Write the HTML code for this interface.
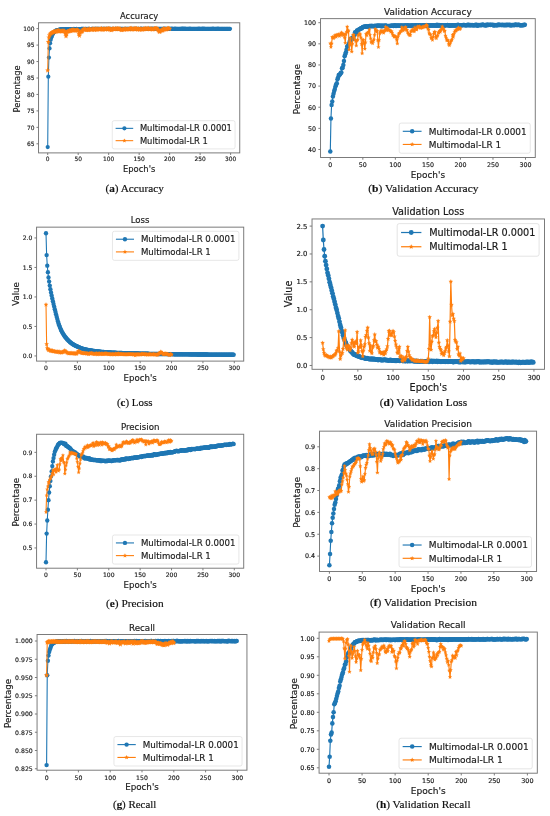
<!DOCTYPE html>
<html lang="en"><head><meta charset="utf-8"><title>Training curves</title>
<style>
html,body{margin:0;padding:0;background:#fff;}
body{width:550px;height:816px;overflow:hidden;}
svg{display:block;}
</style></head><body>
<svg width="550" height="816" viewBox="0 0 550 816">
<rect width="550" height="816" fill="#fff"/>
<g font-family="DejaVu Sans, Liberation Sans, sans-serif" fill="#1a1a1a" stroke="#1a1a1a" stroke-width="0.15">
<clipPath id="clipa"><rect x="38.55" y="22.79" width="201.2" height="130.11"/></clipPath>
<g clip-path="url(#clipa)" stroke="none">
<marker id="mab" markerUnits="userSpaceOnUse" markerWidth="12" markerHeight="12" viewBox="-6 -6 12 12" refX="0" refY="0" overflow="visible"><circle cx="0" cy="0" r="2.1" fill="#1f77b4"/></marker>
<polyline points="47.7,147.09 48.31,76.68 48.92,57.6 49.53,48.39 50.14,43.13 50.75,39.84 51.36,37.47 51.97,35.94 52.58,34.52 53.19,33.45 53.8,32.5 54.41,32.09 55.02,31.41 55.63,30.93 56.24,30.46 56.85,30.37 57.46,30.14 58.06,30.03 58.67,29.83 59.28,29.68 59.89,29.68 60.5,29.44 61.11,29.38 61.72,29.35 62.33,29.28 62.94,29.35 63.55,29.3 64.16,29.33 64.77,29.27 65.38,29.2 65.99,29.26 66.6,29.23 67.21,29.23 67.82,29.23 68.43,29.2 69.04,29.14 69.65,29.2 70.26,29.1 70.87,29 71.48,29.05 72.09,29.1 72.7,29.13 73.31,29.12 73.92,28.95 74.53,29.05 75.14,29.08 75.75,29.02 76.36,28.89 76.97,29.01 77.58,28.98 78.19,28.99 78.79,29.03 79.4,29.08 80.01,29.02 80.62,29.01 81.23,28.95 81.84,28.93 82.45,28.92 83.06,28.96 83.67,28.92 84.28,29.03 84.89,28.89 85.5,28.94 86.11,28.99 86.72,28.94 87.33,28.98 87.94,28.89 88.55,28.87 89.16,28.82 89.77,29.06 90.38,29.06 90.99,28.99 91.6,28.95 92.21,28.9 92.82,28.94 93.43,29.09 94.04,28.97 94.65,28.9 95.26,28.94 95.87,28.9 96.48,28.96 97.09,28.96 97.7,28.93 98.31,28.92 98.91,28.93 99.52,28.93 100.13,28.98 100.74,28.91 101.35,28.93 101.96,28.86 102.57,28.86 103.18,28.92 103.79,28.96 104.4,28.97 105.01,28.9 105.62,28.92 106.23,28.95 106.84,28.92 107.45,28.96 108.06,28.88 108.67,28.95 109.28,28.84 109.89,28.89 110.5,28.88 111.11,28.99 111.72,28.9 112.33,28.87 112.94,28.98 113.55,28.93 114.16,28.91 114.77,29 115.38,28.89 115.99,28.85 116.6,28.96 117.21,28.88 117.82,28.99 118.43,28.91 119.03,29.01 119.64,28.83 120.25,28.87 120.86,28.9 121.47,28.95 122.08,28.81 122.69,28.77 123.3,29.02 123.91,28.81 124.52,28.78 125.13,28.87 125.74,28.97 126.35,28.83 126.96,28.9 127.57,28.93 128.18,28.97 128.79,28.85 129.4,28.83 130.01,28.92 130.62,28.85 131.23,28.96 131.84,28.83 132.45,28.88 133.06,28.89 133.67,28.88 134.28,28.82 134.89,28.83 135.5,28.84 136.11,28.86 136.72,28.87 137.33,28.83 137.94,28.86 138.55,28.83 139.16,28.89 139.76,29.03 140.37,28.8 140.98,28.72 141.59,28.84 142.2,28.87 142.81,28.87 143.42,28.87 144.03,28.86 144.64,28.94 145.25,28.9 145.86,28.93 146.47,28.84 147.08,28.88 147.69,28.83 148.3,28.87 148.91,28.79 149.52,28.84 150.13,28.71 150.74,28.98 151.35,28.9 151.96,28.79 152.57,28.69 153.18,28.87 153.79,28.85 154.4,28.87 155.01,28.76 155.62,28.87 156.23,28.8 156.84,28.87 157.45,28.93 158.06,28.83 158.67,28.81 159.28,28.76 159.88,28.85 160.49,28.89 161.1,28.81 161.71,28.83 162.32,28.82 162.93,28.85 163.54,28.77 164.15,28.82 164.76,28.72 165.37,28.77 165.98,28.8 166.59,28.95 167.2,28.8 167.81,28.81 168.42,28.78 169.03,28.77 169.64,28.86 170.25,28.78 170.86,28.87 171.47,28.71 172.08,28.92 172.69,28.95 173.3,28.94 173.91,28.89 174.52,28.91 175.13,28.7 175.74,28.85 176.35,28.92 176.96,28.76 177.57,28.87 178.18,28.91 178.79,28.77 179.4,28.79 180,28.86 180.61,28.74 181.22,28.82 181.83,28.72 182.44,28.79 183.05,28.72 183.66,28.82 184.27,28.91 184.88,28.67 185.49,28.86 186.1,28.84 186.71,28.87 187.32,28.84 187.93,28.81 188.54,28.81 189.15,28.78 189.76,28.71 190.37,28.83 190.98,28.9 191.59,28.9 192.2,28.87 192.81,28.93 193.42,28.77 194.03,28.85 194.64,28.84 195.25,28.82 195.86,28.91 196.47,28.88 197.08,28.78 197.69,28.78 198.3,28.85 198.91,28.7 199.52,28.91 200.12,28.84 200.73,28.83 201.34,29 201.95,28.69 202.56,28.79 203.17,28.89 203.78,28.68 204.39,28.78 205,28.79 205.61,28.86 206.22,28.81 206.83,28.92 207.44,28.76 208.05,28.84 208.66,28.81 209.27,28.74 209.88,28.8 210.49,28.8 211.1,28.8 211.71,28.86 212.32,28.76 212.93,28.71 213.54,28.77 214.15,28.76 214.76,28.87 215.37,28.87 215.98,28.91 216.59,28.73 217.2,28.83 217.81,28.72 218.42,28.87 219.03,28.84 219.64,28.81 220.25,28.75 220.85,28.81 221.46,28.8 222.07,28.81 222.68,28.8 223.29,28.89 223.9,28.81 224.51,28.83 225.12,28.82 225.73,28.78 226.34,28.86 226.95,28.82 227.56,28.83 228.17,28.79 228.78,28.76 229.39,28.88 230,28.78" fill="none" stroke="#1f77b4" stroke-width="1.07" stroke-linejoin="round" marker-start="url(#mab)" marker-mid="url(#mab)" marker-end="url(#mab)"/>
<marker id="mao" markerUnits="userSpaceOnUse" markerWidth="12" markerHeight="12" viewBox="-6 -6 12 12" refX="0" refY="0" overflow="visible"><path d="M0,-2.42L0.65,-0.9L2.3,-0.75L1.06,0.34L1.42,1.96L0,1.11L-1.42,1.96L-1.06,0.34L-2.3,-0.75L-0.65,-0.9Z" fill="#ff7f0e" stroke="#ff7f0e" stroke-width="0.16" stroke-linejoin="round"/></marker>
<polyline points="47.7,70.43 48.31,41.81 48.92,37.53 49.53,35.32 50.14,34.36 50.75,33.5 51.36,33.35 51.97,32.43 52.58,32.56 53.19,32.28 53.8,31.44 54.41,31.49 55.02,31.98 55.63,31.34 56.24,31.74 56.85,30.79 57.46,30.61 58.06,31.04 58.67,30.45 59.28,31.48 59.89,30.78 60.5,31.4 61.11,30.85 61.72,31.31 62.33,31.25 62.94,30.55 63.55,31.06 64.16,31.21 64.77,31.03 65.38,33.64 65.99,36.26 66.6,34.35 67.21,31.41 67.82,31.47 68.43,31.27 69.04,31.28 69.65,30.53 70.26,30.67 70.87,31.11 71.48,30.17 72.09,29.62 72.7,30.31 73.31,29.76 73.92,30.57 74.53,30.26 75.14,30.48 75.75,30.49 76.36,30.01 76.97,30.38 77.58,29.79 78.19,30.4 78.79,33.61 79.4,35.75 80.01,33.08 80.62,31.75 81.23,31.97 81.84,31.32 82.45,31.25 83.06,29.58 83.67,29.28 84.28,29.2 84.89,29.46 85.5,29.2 86.11,30.04 86.72,29.84 87.33,29.48 87.94,29.7 88.55,30.12 89.16,28.74 89.77,29.5 90.38,29.38 90.99,29.62 91.6,29.69 92.21,29.48 92.82,28.81 93.43,28.92 94.04,29.42 94.65,29.92 95.26,28.76 95.87,29.5 96.48,29.02 97.09,29.82 97.7,28.89 98.31,29.28 98.91,29.12 99.52,29.23 100.13,29.31 100.74,29.02 101.35,28.4 101.96,29.64 102.57,29.34 103.18,29.72 103.79,28.71 104.4,28.82 105.01,29.45 105.62,29.15 106.23,28.82 106.84,28.78 107.45,29.49 108.06,28.45 108.67,28.59 109.28,29.52 109.89,28.44 110.5,29.44 111.11,30.19 111.72,29.74 112.33,29.38 112.94,28.37 113.55,28.83 114.16,29.18 114.77,29.29 115.38,28.34 115.99,29.05 116.6,28.87 117.21,28.76 117.82,28.44 118.43,28.72 119.03,29.36 119.64,28.76 120.25,28.9 120.86,29.52 121.47,30.01 122.08,29.96 122.69,29.33 123.3,29.44 123.91,29.21 124.52,29.59 125.13,28.69 125.74,29.17 126.35,29.33 126.96,29.46 127.57,29.18 128.18,29.28 128.79,29.18 129.4,28.91 130.01,28.79 130.62,28.37 131.23,28.16 131.84,29.52 132.45,29.25 133.06,28.65 133.67,29.35 134.28,28.32 134.89,29.27 135.5,28.51 136.11,28.63 136.72,28.42 137.33,29.53 137.94,29.24 138.55,28.55 139.16,29.45 139.76,29.53 140.37,29.05 140.98,28.72 141.59,29.49 142.2,29.47 142.81,29.5 143.42,28.99 144.03,28.6 144.64,29.28 145.25,28.29 145.86,28.93 146.47,28.66 147.08,29.14 147.69,28.67 148.3,28.18 148.91,28.91 149.52,29.25 150.13,28.94 150.74,28.91 151.35,28.82 151.96,28.79 152.57,29.49 153.18,29.31 153.79,28.89 154.4,28.52 155.01,28.42 155.62,28.42 156.23,28.81 156.84,28.15 157.45,29.06 158.06,29.99 158.67,30.76 159.28,31.75 159.88,31.84 160.49,30.67 161.1,30.7 161.71,29.94 162.32,30.6 162.93,30.2 163.54,28.51 164.15,29.69 164.76,28.84 165.37,29.36 165.98,29.44 166.59,29.14 167.2,28.33 167.81,28.81 168.42,28.28 169.03,28.55 169.64,28.81" fill="none" stroke="#ff7f0e" stroke-width="1.07" stroke-linejoin="round" marker-start="url(#mao)" marker-mid="url(#mao)" marker-end="url(#mao)"/>
</g>
<rect x="38.55" y="22.79" width="201.2" height="130.11" fill="none" stroke="#757575" stroke-width="0.95"/>
<text x="47.7" y="161.44" font-size="5.91" text-anchor="middle">0</text>
<text x="78.19" y="161.44" font-size="5.91" text-anchor="middle">50</text>
<text x="108.67" y="161.44" font-size="5.91" text-anchor="middle">100</text>
<text x="139.16" y="161.44" font-size="5.91" text-anchor="middle">150</text>
<text x="169.64" y="161.44" font-size="5.91" text-anchor="middle">200</text>
<text x="200.12" y="161.44" font-size="5.91" text-anchor="middle">250</text>
<text x="230.61" y="161.44" font-size="5.91" text-anchor="middle">300</text>
<text x="34.41" y="145.96" font-size="5.91" text-anchor="end">65</text>
<text x="34.41" y="129.51" font-size="5.91" text-anchor="end">70</text>
<text x="34.41" y="113.06" font-size="5.91" text-anchor="end">75</text>
<text x="34.41" y="96.61" font-size="5.91" text-anchor="end">80</text>
<text x="34.41" y="80.16" font-size="5.91" text-anchor="end">85</text>
<text x="34.41" y="63.71" font-size="5.91" text-anchor="end">90</text>
<text x="34.41" y="47.26" font-size="5.91" text-anchor="end">95</text>
<text x="34.41" y="30.81" font-size="5.91" text-anchor="end">100</text>
<path d="M47.7,152.9v2.07M78.19,152.9v2.07M108.67,152.9v2.07M139.16,152.9v2.07M169.64,152.9v2.07M200.12,152.9v2.07M230.61,152.9v2.07M38.55,143.8h-2.07M38.55,127.35h-2.07M38.55,110.9h-2.07M38.55,94.45h-2.07M38.55,78h-2.07M38.55,61.55h-2.07M38.55,45.1h-2.07M38.55,28.65h-2.07" stroke="#757575" stroke-width="0.95" fill="none"/>
<text x="139.16" y="19.13" font-size="8.38" text-anchor="middle">Accuracy</text>
<text x="139.16" y="172.11" font-size="8.38" text-anchor="middle">Epoch&#39;s</text>
<text transform="translate(19.6,88.88) rotate(-90)" font-size="8.38" text-anchor="middle">Percentage</text>
<rect x="112.25" y="120.65" width="122.81" height="28.23" rx="1.84" fill="#fff" fill-opacity="0.8" stroke="#d4d4d4" stroke-width="0.55"/>
<path d="M115.6,128.35H133.2" stroke="#1f77b4" stroke-width="1.07"/>
<circle cx="124.4" cy="128.35" r="2.1" fill="#1f77b4" stroke="none"/>
<text x="139.9" y="131.37" font-size="8.38">Multimodal-LR 0.0001</text>
<path d="M115.6,140.67H133.2" stroke="#ff7f0e" stroke-width="1.07"/>
<path d="M124.4,138.44L125,139.84L126.52,139.98L125.38,140.99L125.71,142.47L124.4,141.7L123.09,142.47L123.42,140.99L122.28,139.98L123.8,139.84Z" fill="#ff7f0e" stroke="none"/>
<text x="139.9" y="143.68" font-size="8.38">Multimodal-LR 1</text>
</g>
<text x="134.6" y="191.7" font-size="10.8" text-anchor="middle" font-family="Liberation Serif, DejaVu Serif, serif" fill="#111" stroke="#111" stroke-width="0.15" textLength="58.4" lengthAdjust="spacingAndGlyphs">(<tspan font-weight="bold">a</tspan>) Accuracy</text>
<g font-family="DejaVu Sans, Liberation Sans, sans-serif" fill="#1a1a1a" stroke="#1a1a1a" stroke-width="0.16">
<clipPath id="clipb"><rect x="320.54" y="18.64" width="214.73" height="138.86"/></clipPath>
<g clip-path="url(#clipb)" stroke="none">
<marker id="mbb" markerUnits="userSpaceOnUse" markerWidth="12" markerHeight="12" viewBox="-6 -6 12 12" refX="0" refY="0" overflow="visible"><circle cx="0" cy="0" r="2.24" fill="#1f77b4"/></marker>
<polyline points="330.3,151.59 330.95,118.42 331.6,105.11 332.25,101.6 332.9,96.59 333.55,93.82 334.2,90.92 334.85,88.99 335.51,86.16 336.16,84.43 336.81,83.21 337.46,79.22 338.11,77.44 338.76,74.96 339.41,75.03 340.06,74.13 340.71,72.95 341.36,72.44 342.01,68.25 342.66,67.8 343.31,64.89 343.96,60.93 344.62,56.22 345.27,54.13 345.92,52.29 346.57,49.58 347.22,46.5 347.87,45.71 348.52,44.93 349.17,43.17 349.82,41.01 350.47,38.63 351.12,40.56 351.77,38.89 352.42,38.01 353.07,38.52 353.73,36.07 354.38,35.15 355.03,32.16 355.68,32.55 356.33,33.27 356.98,30.46 357.63,30.56 358.28,30.32 358.93,29.59 359.58,29.16 360.23,28.83 360.88,28.26 361.53,28.39 362.18,27.65 362.84,27.1 363.49,26.91 364.14,26.69 364.79,26.57 365.44,26.38 366.09,26.84 366.74,26.34 367.39,26.84 368.04,26.51 368.69,26.74 369.34,26.07 369.99,25.97 370.64,26.26 371.29,25.82 371.94,26.3 372.6,26.1 373.25,26.07 373.9,26.31 374.55,25.97 375.2,25.63 375.85,26.23 376.5,25.81 377.15,26.01 377.8,25.59 378.45,25.84 379.1,25.79 379.75,25.78 380.4,25.85 381.05,26.19 381.71,25.59 382.36,26.16 383.01,25.81 383.66,25.72 384.31,26.02 384.96,25.8 385.61,25.57 386.26,25.82 386.91,25.99 387.56,26.41 388.21,25.99 388.86,25.9 389.51,25.87 390.16,25.96 390.82,25.67 391.47,25.86 392.12,25.76 392.77,25.58 393.42,25.9 394.07,25.77 394.72,25.25 395.37,25.51 396.02,25.96 396.67,25.7 397.32,25.56 397.97,25.41 398.62,25.63 399.27,25.77 399.92,25.8 400.58,25.51 401.23,25.57 401.88,25.74 402.53,25.66 403.18,25.71 403.83,25.46 404.48,25.75 405.13,25.5 405.78,25.42 406.43,25.49 407.08,25.76 407.73,25.3 408.38,25.72 409.03,25.48 409.69,25.73 410.34,25.93 410.99,25.51 411.64,25.49 412.29,25.56 412.94,25.48 413.59,25.68 414.24,25.69 414.89,25.56 415.54,25.12 416.19,25.35 416.84,25.63 417.49,25.39 418.14,25.61 418.8,25.6 419.45,25.32 420.1,25.61 420.75,25.85 421.4,25.68 422.05,25.46 422.7,25.45 423.35,25.21 424,25.62 424.65,25.31 425.3,25.37 425.95,25.49 426.6,25.28 427.25,25.35 427.9,25.63 428.56,25.22 429.21,25.7 429.86,25.42 430.51,25.43 431.16,25.34 431.81,25.58 432.46,25.43 433.11,25.44 433.76,25.2 434.41,25.57 435.06,25.39 435.71,25.45 436.36,25.67 437.01,24.83 437.67,25.4 438.32,25.7 438.97,25.08 439.62,25.6 440.27,25.29 440.92,25.18 441.57,25.5 442.22,25.45 442.87,25.47 443.52,25.38 444.17,25.69 444.82,25.6 445.47,25.37 446.12,25.12 446.78,25.2 447.43,24.96 448.08,25.18 448.73,25.43 449.38,25.34 450.03,25.74 450.68,25.51 451.33,25.52 451.98,25.24 452.63,25.16 453.28,25.41 453.93,25.42 454.58,25.61 455.23,25.31 455.89,25.23 456.54,25.18 457.19,25.44 457.84,24.85 458.49,25.01 459.14,25.28 459.79,25.37 460.44,25.32 461.09,25.22 461.74,25.25 462.39,25.14 463.04,25.08 463.69,24.95 464.34,24.99 464.99,25.25 465.65,25.14 466.3,25.3 466.95,25.34 467.6,24.81 468.25,25.31 468.9,24.79 469.55,25.28 470.2,25.15 470.85,24.97 471.5,25.19 472.15,25.11 472.8,25.24 473.45,25.29 474.1,25.22 474.76,25.32 475.41,24.83 476.06,25.21 476.71,24.81 477.36,25.74 478.01,25.16 478.66,25.04 479.31,25.22 479.96,24.92 480.61,25.02 481.26,25.21 481.91,25.06 482.56,24.55 483.21,25.09 483.87,25.08 484.52,25.23 485.17,25.11 485.82,25.4 486.47,25.17 487.12,24.61 487.77,24.9 488.42,24.98 489.07,24.88 489.72,24.72 490.37,24.99 491.02,24.67 491.67,24.88 492.32,25.07 492.98,24.74 493.63,25.6 494.28,25.22 494.93,25.04 495.58,25.29 496.23,25.12 496.88,25.22 497.53,25.22 498.18,24.51 498.83,24.95 499.48,25.09 500.13,24.8 500.78,25.13 501.43,24.89 502.08,25 502.74,24.73 503.39,25.37 504.04,24.9 504.69,25.04 505.34,25.31 505.99,24.84 506.64,25.24 507.29,24.71 507.94,24.95 508.59,24.91 509.24,25.03 509.89,24.86 510.54,25.44 511.19,25.03 511.85,25.18 512.5,24.98 513.15,25.05 513.8,24.91 514.45,25.22 515.1,24.65 515.75,24.55 516.4,25.08 517.05,25.04 517.7,24.97 518.35,24.77 519,24.63 519.65,25.29 520.3,25.16 520.96,25.25 521.61,25.26 522.26,25.37 522.91,24.95 523.56,25.27 524.21,24.71 524.86,24.83" fill="none" stroke="#1f77b4" stroke-width="1.14" stroke-linejoin="round" marker-start="url(#mbb)" marker-mid="url(#mbb)" marker-end="url(#mbb)"/>
<marker id="mbo" markerUnits="userSpaceOnUse" markerWidth="12" markerHeight="12" viewBox="-6 -6 12 12" refX="0" refY="0" overflow="visible"><path d="M0,-1.98L0.54,-0.74L1.89,-0.61L0.87,0.28L1.17,1.61L0,0.91L-1.17,1.61L-0.87,0.28L-1.89,-0.61L-0.54,-0.74Z" fill="#ff7f0e" stroke="#ff7f0e" stroke-width="0.17" stroke-linejoin="round"/></marker>
<polyline points="330.3,43.41 330.95,47 331.6,43.61 332.25,37.11 332.9,37.34 333.55,38.45 334.2,37.1 334.85,35.4 335.51,35.46 336.16,36.92 336.81,34.69 337.46,35.34 338.11,34.57 338.76,34.5 339.41,36.05 340.06,34.12 340.71,35.17 341.36,32.59 342.01,33.48 342.66,34.2 343.31,35.32 343.96,34.05 344.62,37.62 345.27,42.91 345.92,34.27 346.57,31.75 347.22,26.65 347.87,31.81 348.52,30.52 349.17,49.64 349.82,44.16 350.47,38.13 351.12,43.77 351.77,51.64 352.42,43.74 353.07,35.04 353.73,34.78 354.38,37.34 355.03,39.92 355.68,41 356.33,45.58 356.98,40.63 357.63,39.76 358.28,35.18 358.93,34.97 359.58,33.53 360.23,34.46 360.88,37.57 361.53,44.06 362.18,53.42 362.84,39.75 363.49,40.05 364.14,43.36 364.79,48.86 365.44,42.41 366.09,33.9 366.74,35.46 367.39,32.79 368.04,32.5 368.69,32.41 369.34,29.54 369.99,35.04 370.64,38.4 371.29,42.36 371.94,41.51 372.6,43.33 373.25,41.08 373.9,39.58 374.55,34.91 375.2,29.05 375.85,30.36 376.5,31.79 377.15,30.82 377.8,40.3 378.45,47.13 379.1,40.22 379.75,33.47 380.4,31.53 381.05,30.55 381.71,31.64 382.36,32.13 383.01,31.07 383.66,32.83 384.31,30.38 384.96,30.66 385.61,26.79 386.26,29.54 386.91,30.41 387.56,28.06 388.21,29.74 388.86,29.93 389.51,30.23 390.16,30.66 390.82,31.8 391.47,31.2 392.12,32.66 392.77,34.79 393.42,35.37 394.07,36.95 394.72,36.21 395.37,36.37 396.02,37.16 396.67,39.95 397.32,43.55 397.97,36.92 398.62,34.35 399.27,33.19 399.92,32.73 400.58,31.35 401.23,30.84 401.88,27.31 402.53,28.7 403.18,30.68 403.83,28.75 404.48,29.42 405.13,27.31 405.78,27.3 406.43,29.99 407.08,30.12 407.73,32.45 408.38,33.85 409.03,34.42 409.69,35.43 410.34,35.05 410.99,31.37 411.64,31.01 412.29,30.23 412.94,29.22 413.59,30.61 414.24,31.5 414.89,27.41 415.54,28.88 416.19,29.6 416.84,29.34 417.49,26.46 418.14,27.35 418.8,27 419.45,26.15 420.1,27.71 420.75,28.02 421.4,27.49 422.05,27.76 422.7,26.79 423.35,27.46 424,26.35 424.65,26.93 425.3,26.44 425.95,25.56 426.6,24.66 427.25,25.75 427.9,28.69 428.56,29.85 429.21,33.33 429.86,34.21 430.51,34.65 431.16,38.18 431.81,37.66 432.46,39.99 433.11,36.99 433.76,33.76 434.41,31.62 435.06,32.22 435.71,37.12 436.36,38.3 437.01,36.05 437.67,35.54 438.32,32.32 438.97,32.91 439.62,30.67 440.27,31.98 440.92,30.05 441.57,28.87 442.22,26.48 442.87,28.49 443.52,28.57 444.17,31.07 444.82,30.81 445.47,35.66 446.12,37.78 446.78,40.39 447.43,40.05 448.08,40.49 448.73,44.04 449.38,45.32 450.03,43.66 450.68,41.75 451.33,40.29 451.98,39.59 452.63,34.83 453.28,37.14 453.93,34.34 454.58,32.02 455.23,30.4 455.89,30.97 456.54,30.21 457.19,28.98 457.84,29.09 458.49,27.51 459.14,28.84 459.79,29.17 460.44,28.32" fill="none" stroke="#ff7f0e" stroke-width="1.14" stroke-linejoin="round" marker-start="url(#mbo)" marker-mid="url(#mbo)" marker-end="url(#mbo)"/>
</g>
<rect x="320.54" y="18.64" width="214.73" height="138.86" fill="none" stroke="#757575" stroke-width="0.95"/>
<text x="330.3" y="166.61" font-size="6.31" text-anchor="middle">0</text>
<text x="362.84" y="166.61" font-size="6.31" text-anchor="middle">50</text>
<text x="395.37" y="166.61" font-size="6.31" text-anchor="middle">100</text>
<text x="427.9" y="166.61" font-size="6.31" text-anchor="middle">150</text>
<text x="460.44" y="166.61" font-size="6.31" text-anchor="middle">200</text>
<text x="492.98" y="166.61" font-size="6.31" text-anchor="middle">250</text>
<text x="525.51" y="166.61" font-size="6.31" text-anchor="middle">300</text>
<text x="316.11" y="151.78" font-size="6.31" text-anchor="end">40</text>
<text x="316.11" y="130.65" font-size="6.31" text-anchor="end">50</text>
<text x="316.11" y="109.52" font-size="6.31" text-anchor="end">60</text>
<text x="316.11" y="88.39" font-size="6.31" text-anchor="end">70</text>
<text x="316.11" y="67.26" font-size="6.31" text-anchor="end">80</text>
<text x="316.11" y="46.13" font-size="6.31" text-anchor="end">90</text>
<text x="316.11" y="25" font-size="6.31" text-anchor="end">100</text>
<path d="M330.3,157.5v2.21M362.84,157.5v2.21M395.37,157.5v2.21M427.9,157.5v2.21M460.44,157.5v2.21M492.98,157.5v2.21M525.51,157.5v2.21M320.54,149.48h-2.21M320.54,128.35h-2.21M320.54,107.22h-2.21M320.54,86.09h-2.21M320.54,64.96h-2.21M320.54,43.83h-2.21M320.54,22.7h-2.21" stroke="#757575" stroke-width="0.95" fill="none"/>
<text x="427.9" y="14.74" font-size="8.94" text-anchor="middle">Validation Accuracy</text>
<text x="427.9" y="178" font-size="8.94" text-anchor="middle">Epoch&#39;s</text>
<text transform="translate(299.8,89.18) rotate(-90)" font-size="8.94" text-anchor="middle">Percentage</text>
<rect x="399.19" y="123.08" width="131.07" height="30.13" rx="1.97" fill="#fff" fill-opacity="0.8" stroke="#d4d4d4" stroke-width="0.59"/>
<path d="M402.77,131.3H421.55" stroke="#1f77b4" stroke-width="1.14"/>
<circle cx="412.16" cy="131.3" r="2.24" fill="#1f77b4" stroke="none"/>
<text x="428.7" y="134.52" font-size="8.94">Multimodal-LR 0.0001</text>
<path d="M402.77,144.45H421.55" stroke="#ff7f0e" stroke-width="1.14"/>
<path d="M412.16,142.07L412.8,143.56L414.42,143.71L413.2,144.79L413.56,146.37L412.16,145.54L410.76,146.37L411.12,144.79L409.89,143.71L411.51,143.56Z" fill="#ff7f0e" stroke="none"/>
<text x="428.7" y="147.67" font-size="8.94">Multimodal-LR 1</text>
</g>
<text x="423.4" y="191.6" font-size="10.8" text-anchor="middle" font-family="Liberation Serif, DejaVu Serif, serif" fill="#111" stroke="#111" stroke-width="0.15" textLength="110.2" lengthAdjust="spacingAndGlyphs">(<tspan font-weight="bold">b</tspan>) Validation Accuracy</text>
<g font-family="DejaVu Sans, Liberation Sans, sans-serif" fill="#1a1a1a" stroke="#1a1a1a" stroke-width="0.16">
<clipPath id="clipc"><rect x="36.58" y="227.15" width="207.14" height="133.95"/></clipPath>
<g clip-path="url(#clipc)" stroke="none">
<marker id="mcb" markerUnits="userSpaceOnUse" markerWidth="12" markerHeight="12" viewBox="-6 -6 12 12" refX="0" refY="0" overflow="visible"><circle cx="0" cy="0" r="2.17" fill="#1f77b4"/></marker>
<polyline points="46,233.23 46.63,255.06 47.26,265.68 47.88,272.17 48.51,277.48 49.14,281.61 49.77,285.59 50.39,289.28 51.02,292.52 51.65,295.5 52.28,298.38 52.9,301.2 53.53,303.95 54.16,306.61 54.79,309.2 55.42,311.7 56.04,314.17 56.67,316.64 57.3,319.04 57.93,321.32 58.55,323.42 59.18,325.27 59.81,326.92 60.44,328.47 61.06,329.89 61.69,331.21 62.32,332.43 62.95,333.53 63.58,334.55 64.2,335.5 64.83,336.39 65.46,337.22 66.09,338.01 66.71,338.74 67.34,339.43 67.97,340.09 68.6,340.72 69.22,341.32 69.85,341.9 70.48,342.44 71.11,342.95 71.74,343.42 72.36,343.86 72.99,344.26 73.62,344.63 74.25,344.98 74.87,345.31 75.5,345.63 76.13,345.93 76.76,346.22 77.39,346.51 78.01,346.8 78.64,347.08 79.27,347.36 79.9,347.64 80.52,347.9 81.15,348.16 81.78,348.4 82.41,348.62 83.03,348.81 83.66,348.99 84.29,349.15 84.92,349.3 85.55,349.44 86.17,349.58 86.8,349.72 87.43,349.85 88.06,349.97 88.68,350.09 89.31,350.21 89.94,350.32 90.57,350.43 91.19,350.53 91.82,350.63 92.45,350.72 93.08,350.81 93.71,350.9 94.33,350.99 94.96,351.07 95.59,351.15 96.22,351.23 96.84,351.31 97.47,351.38 98.1,351.46 98.73,351.53 99.35,351.6 99.98,351.67 100.61,351.73 101.24,351.8 101.87,351.86 102.49,351.92 103.12,351.98 103.75,352.04 104.38,352.09 105,352.15 105.63,352.2 106.26,352.24 106.89,352.29 107.51,352.33 108.14,352.37 108.77,352.41 109.4,352.45 110.03,352.48 110.65,352.51 111.28,352.55 111.91,352.58 112.54,352.61 113.16,352.65 113.79,352.68 114.42,352.71 115.05,352.74 115.67,352.77 116.3,352.8 116.93,352.82 117.56,352.85 118.19,352.88 118.81,352.91 119.44,352.93 120.07,352.96 120.7,352.98 121.32,353.01 121.95,353.03 122.58,353.06 123.21,353.08 123.83,353.1 124.46,353.13 125.09,353.15 125.72,353.17 126.35,353.19 126.97,353.21 127.6,353.23 128.23,353.25 128.86,353.27 129.48,353.29 130.11,353.31 130.74,353.33 131.37,353.35 131.99,353.37 132.62,353.39 133.25,353.41 133.88,353.42 134.51,353.44 135.13,353.46 135.76,353.48 136.39,353.49 137.02,353.51 137.64,353.53 138.27,353.54 138.9,353.56 139.53,353.57 140.16,353.59 140.78,353.61 141.41,353.62 142.04,353.64 142.67,353.65 143.29,353.67 143.92,353.68 144.55,353.7 145.18,353.71 145.8,353.73 146.43,353.74 147.06,353.75 147.69,353.77 148.32,353.78 148.94,353.8 149.57,353.81 150.2,353.82 150.83,353.84 151.45,353.85 152.08,353.86 152.71,353.88 153.34,353.89 153.96,353.9 154.59,353.91 155.22,353.93 155.85,353.94 156.48,353.95 157.1,353.96 157.73,353.97 158.36,353.99 158.99,354 159.61,354.01 160.24,354.02 160.87,354.03 161.5,354.04 162.12,354.05 162.75,354.06 163.38,354.07 164.01,354.08 164.64,354.09 165.26,354.1 165.89,354.11 166.52,354.12 167.15,354.12 167.77,354.13 168.4,354.14 169.03,354.15 169.66,354.16 170.28,354.17 170.91,354.17 171.54,354.18 172.17,354.19 172.8,354.19 173.42,354.2 174.05,354.21 174.68,354.22 175.31,354.22 175.93,354.23 176.56,354.24 177.19,354.24 177.82,354.25 178.44,354.26 179.07,354.27 179.7,354.27 180.33,354.28 180.96,354.29 181.58,354.29 182.21,354.3 182.84,354.31 183.47,354.31 184.09,354.32 184.72,354.33 185.35,354.33 185.98,354.34 186.6,354.35 187.23,354.35 187.86,354.36 188.49,354.37 189.12,354.37 189.74,354.38 190.37,354.39 191,354.39 191.63,354.4 192.25,354.41 192.88,354.41 193.51,354.42 194.14,354.42 194.76,354.43 195.39,354.44 196.02,354.44 196.65,354.45 197.28,354.46 197.9,354.46 198.53,354.47 199.16,354.47 199.79,354.48 200.41,354.48 201.04,354.49 201.67,354.49 202.3,354.5 202.93,354.51 203.55,354.51 204.18,354.52 204.81,354.52 205.44,354.53 206.06,354.53 206.69,354.54 207.32,354.54 207.95,354.55 208.57,354.55 209.2,354.55 209.83,354.56 210.46,354.56 211.09,354.57 211.71,354.57 212.34,354.58 212.97,354.58 213.6,354.58 214.22,354.59 214.85,354.59 215.48,354.6 216.11,354.6 216.73,354.6 217.36,354.61 217.99,354.61 218.62,354.61 219.25,354.62 219.87,354.62 220.5,354.62 221.13,354.62 221.76,354.63 222.38,354.63 223.01,354.63 223.64,354.63 224.27,354.64 224.89,354.64 225.52,354.64 226.15,354.64 226.78,354.64 227.41,354.64 228.03,354.65 228.66,354.65 229.29,354.65 229.92,354.65 230.54,354.65 231.17,354.65 231.8,354.65 232.43,354.65 233.05,354.65 233.68,354.65" fill="none" stroke="#1f77b4" stroke-width="1.1" stroke-linejoin="round" marker-start="url(#mcb)" marker-mid="url(#mcb)" marker-end="url(#mcb)"/>
<marker id="mco" markerUnits="userSpaceOnUse" markerWidth="12" markerHeight="12" viewBox="-6 -6 12 12" refX="0" refY="0" overflow="visible"><path d="M0,-2.2L0.6,-0.82L2.09,-0.68L0.96,0.31L1.29,1.78L0,1.01L-1.29,1.78L-0.96,0.31L-2.09,-0.68L-0.6,-0.82Z" fill="#ff7f0e" stroke="#ff7f0e" stroke-width="0.16" stroke-linejoin="round"/></marker>
<polyline points="46,304.62 46.63,344.15 47.26,348.28 47.88,349.14 48.51,350.19 49.14,349.78 49.77,349.95 50.39,350.97 51.02,350.27 51.65,351.12 52.28,350.45 52.9,351.14 53.53,351.51 54.16,351.13 54.79,351.55 55.42,351.63 56.04,351.74 56.67,351.9 57.3,351.75 57.93,351.79 58.55,352.01 59.18,351.62 59.81,352.6 60.44,352.38 61.06,352.04 61.69,352.67 62.32,351.91 62.95,352.2 63.58,351.78 64.2,350.88 64.83,350.52 65.46,351.57 66.09,351.67 66.71,352.43 67.34,352.76 67.97,352.88 68.6,353.59 69.22,353.29 69.85,353.26 70.48,353.14 71.11,352.89 71.74,353.47 72.36,353.56 72.99,353.07 73.62,353.41 74.25,353.8 74.87,353.05 75.5,353.69 76.13,353.62 76.76,353.78 77.39,352.52 78.01,351.46 78.64,351.05 79.27,351.51 79.9,352.45 80.52,352.31 81.15,352.6 81.78,353.25 82.41,352.96 83.03,352.88 83.66,353.07 84.29,353.46 84.92,353.32 85.55,353.1 86.17,353.22 86.8,353.65 87.43,353.3 88.06,353.77 88.68,354.14 89.31,353.5 89.94,353.31 90.57,353.47 91.19,353.18 91.82,353.12 92.45,353.54 93.08,353.85 93.71,353.69 94.33,354.11 94.96,353.71 95.59,353.74 96.22,353.68 96.84,353.42 97.47,354.38 98.1,353.55 98.73,353.94 99.35,353.56 99.98,353.76 100.61,354.13 101.24,353.58 101.87,354.07 102.49,353.71 103.12,354.05 103.75,354.03 104.38,353.87 105,353.36 105.63,353.73 106.26,353.95 106.89,353.47 107.51,353.97 108.14,354.08 108.77,354.29 109.4,353.96 110.03,353.98 110.65,354.22 111.28,354.59 111.91,354.07 112.54,354.01 113.16,354.16 113.79,354.33 114.42,354.37 115.05,354.21 115.67,353.67 116.3,354.03 116.93,354.56 117.56,353.9 118.19,354.23 118.81,353.41 119.44,354.2 120.07,354.13 120.7,354.06 121.32,354.04 121.95,354.11 122.58,354.12 123.21,354.21 123.83,354.31 124.46,354.26 125.09,354.51 125.72,354.32 126.35,354.37 126.97,354.31 127.6,354.32 128.23,354.23 128.86,354.06 129.48,354.29 130.11,354.18 130.74,354.14 131.37,354.31 131.99,354.27 132.62,354.13 133.25,354.74 133.88,354.05 134.51,354.39 135.13,355.35 135.76,354.11 136.39,354.62 137.02,354.01 137.64,354.57 138.27,354.35 138.9,354.1 139.53,354.53 140.16,354.6 140.78,354.35 141.41,353.91 142.04,354 142.67,353.92 143.29,354.22 143.92,354.2 144.55,354.03 145.18,354.19 145.8,354.6 146.43,354.14 147.06,354.52 147.69,354.62 148.32,354.34 148.94,354.41 149.57,354.14 150.2,354.32 150.83,354.53 151.45,354.43 152.08,354.59 152.71,354.52 153.34,354.06 153.96,354.32 154.59,354.55 155.22,354.55 155.85,354.63 156.48,354.52 157.1,354.91 157.73,354.29 158.36,354.26 158.99,353.68 159.61,353.31 160.24,352.46 160.87,351.82 161.5,352.67 162.12,352.86 162.75,353.64 163.38,354.33 164.01,354.25 164.64,353.69 165.26,354.03 165.89,353.5 166.52,353.99 167.15,353.91 167.77,354.25 168.4,354.4 169.03,354.73 169.66,355.15 170.28,354.06 170.91,354.2 171.54,354.62" fill="none" stroke="#ff7f0e" stroke-width="1.1" stroke-linejoin="round" marker-start="url(#mco)" marker-mid="url(#mco)" marker-end="url(#mco)"/>
</g>
<rect x="36.58" y="227.15" width="207.14" height="133.95" fill="none" stroke="#757575" stroke-width="0.95"/>
<text x="46" y="370.33" font-size="6.09" text-anchor="middle">0</text>
<text x="77.39" y="370.33" font-size="6.09" text-anchor="middle">50</text>
<text x="108.77" y="370.33" font-size="6.09" text-anchor="middle">100</text>
<text x="140.16" y="370.33" font-size="6.09" text-anchor="middle">150</text>
<text x="171.54" y="370.33" font-size="6.09" text-anchor="middle">200</text>
<text x="202.93" y="370.33" font-size="6.09" text-anchor="middle">250</text>
<text x="234.31" y="370.33" font-size="6.09" text-anchor="middle">300</text>
<text x="32.32" y="358.17" font-size="6.09" text-anchor="end">0.0</text>
<text x="32.32" y="328.67" font-size="6.09" text-anchor="end">0.5</text>
<text x="32.32" y="299.17" font-size="6.09" text-anchor="end">1.0</text>
<text x="32.32" y="269.67" font-size="6.09" text-anchor="end">1.5</text>
<text x="32.32" y="240.17" font-size="6.09" text-anchor="end">2.0</text>
<path d="M46,361.1v2.13M77.39,361.1v2.13M108.77,361.1v2.13M140.16,361.1v2.13M171.54,361.1v2.13M202.93,361.1v2.13M234.31,361.1v2.13M36.58,355.95h-2.13M36.58,326.45h-2.13M36.58,296.95h-2.13M36.58,267.45h-2.13M36.58,237.95h-2.13" stroke="#757575" stroke-width="0.95" fill="none"/>
<text x="140.16" y="223.38" font-size="8.62" text-anchor="middle">Loss</text>
<text x="140.16" y="380.87" font-size="8.62" text-anchor="middle">Epoch&#39;s</text>
<text transform="translate(18.5,293.94) rotate(-90)" font-size="8.62" text-anchor="middle">Value</text>
<rect x="112.46" y="231.29" width="126.44" height="29.06" rx="1.9" fill="#fff" fill-opacity="0.8" stroke="#d4d4d4" stroke-width="0.56"/>
<path d="M115.91,239.22H134.02" stroke="#1f77b4" stroke-width="1.1"/>
<circle cx="124.96" cy="239.22" r="2.17" fill="#1f77b4" stroke="none"/>
<text x="140.92" y="242.33" font-size="8.62">Multimodal-LR 0.0001</text>
<path d="M115.91,251.9H134.02" stroke="#ff7f0e" stroke-width="1.1"/>
<path d="M124.96,249.6L125.59,251.05L127.15,251.19L125.97,252.23L126.32,253.76L124.96,252.96L123.61,253.76L123.96,252.23L122.78,251.19L124.34,251.05Z" fill="#ff7f0e" stroke="none"/>
<text x="140.92" y="255.01" font-size="8.62">Multimodal-LR 1</text>
</g>
<text x="134.7" y="405.6" font-size="10.8" text-anchor="middle" font-family="Liberation Serif, DejaVu Serif, serif" fill="#111" stroke="#111" stroke-width="0.15" textLength="35.4" lengthAdjust="spacingAndGlyphs">(<tspan font-weight="bold">c</tspan>) Loss</text>
<g font-family="DejaVu Sans, Liberation Sans, sans-serif" fill="#1a1a1a" stroke="#1a1a1a" stroke-width="0.18">
<clipPath id="clipd"><rect x="312.03" y="218.96" width="232.49" height="150.34"/></clipPath>
<g clip-path="url(#clipd)" stroke="none">
<marker id="mdb" markerUnits="userSpaceOnUse" markerWidth="12" markerHeight="12" viewBox="-6 -6 12 12" refX="0" refY="0" overflow="visible"><circle cx="0" cy="0" r="2.43" fill="#1f77b4"/></marker>
<polyline points="322.6,226.1 323.3,240.04 324.01,249.51 324.71,256.2 325.42,261.23 326.12,265.12 326.83,268.91 327.53,272.82 328.24,275.52 328.94,278.8 329.65,282.14 330.35,284.94 331.05,287.58 331.76,290.53 332.46,293.36 333.17,296.47 333.87,298.85 334.58,301.77 335.28,304.56 335.99,307.79 336.69,309.9 337.39,313.08 338.1,316.1 338.8,318.48 339.51,321.85 340.21,325.02 340.92,327.55 341.62,330.61 342.33,332.43 343.03,335.28 343.74,337.72 344.44,339.39 345.14,341.78 345.85,342.98 346.55,345.15 347.26,346.3 347.96,347.73 348.67,348.29 349.37,349.19 350.08,350.51 350.78,351.04 351.48,352.01 352.19,352.54 352.89,353.47 353.6,354.26 354.3,354.79 355.01,354.76 355.71,354.74 356.42,355.51 357.12,355.99 357.83,355.73 358.53,356.37 359.23,356.65 359.94,356.86 360.64,357.16 361.35,357.4 362.05,357.84 362.76,357.59 363.46,357.88 364.17,357.74 364.87,358.22 365.57,358.68 366.28,358.38 366.98,358.08 367.69,358.65 368.39,358.86 369.1,359.02 369.8,359.08 370.51,359 371.21,359.28 371.92,358.76 372.62,359.24 373.32,359.23 374.03,359.01 374.73,359.06 375.44,359.51 376.14,359.46 376.85,359.43 377.55,359.7 378.26,360.11 378.96,359.63 379.66,359.63 380.37,359.78 381.07,360.13 381.78,360.02 382.48,360.15 383.19,360.12 383.89,359.81 384.6,359.79 385.3,360.02 386,360.08 386.71,360.08 387.41,360.27 388.12,360.31 388.82,360.47 389.53,360.36 390.23,359.87 390.94,360.21 391.64,360.51 392.35,360.56 393.05,360.68 393.75,360.43 394.46,360.45 395.16,360.88 395.87,360.47 396.57,360.73 397.28,360.31 397.98,360.61 398.69,360.29 399.39,360.8 400.1,360.78 400.8,360.67 401.5,360.52 402.21,360.65 402.91,361.07 403.62,360.77 404.32,360.83 405.03,360.95 405.73,361.01 406.44,360.5 407.14,360.99 407.84,361.11 408.55,360.79 409.25,360.92 409.96,360.99 410.66,360.81 411.37,360.89 412.07,360.93 412.78,360.81 413.48,360.98 414.19,361.2 414.89,361.15 415.59,361.2 416.3,361.05 417,361.35 417.71,361.53 418.41,361.12 419.12,361.45 419.82,361.6 420.53,361.09 421.23,361.34 421.93,361.09 422.64,361.33 423.34,361.47 424.05,361.51 424.75,361.36 425.46,361.31 426.16,361.45 426.87,361.34 427.57,361.63 428.28,361.29 428.98,361.7 429.68,361.36 430.39,361.17 431.09,361.09 431.8,360.96 432.5,361.7 433.21,361.19 433.91,361.1 434.62,361.17 435.32,361.6 436.02,361.31 436.73,361 437.43,361.76 438.14,361.33 438.84,361.19 439.55,361.61 440.25,361.33 440.96,361.71 441.66,361.66 442.37,361.67 443.07,361.46 443.77,361.53 444.48,361.31 445.18,361.74 445.89,361.57 446.59,361.33 447.3,361.43 448,361.86 448.71,361.43 449.41,361.69 450.11,361.51 450.82,361.54 451.52,361.34 452.23,361.6 452.93,362.05 453.64,361.95 454.34,361.49 455.05,361.72 455.75,361.42 456.46,361.62 457.16,361.85 457.86,361.45 458.57,361.88 459.27,362.17 459.98,361.26 460.68,362.16 461.39,361.6 462.09,361.54 462.8,361.72 463.5,362.14 464.2,361.55 464.91,362.1 465.61,362.09 466.32,361.88 467.02,361.63 467.73,361.75 468.43,361.64 469.14,361.93 469.84,361.88 470.55,362.1 471.25,361.93 471.95,361.73 472.66,361.94 473.36,361.77 474.07,362.01 474.77,362.03 475.48,361.89 476.18,361.95 476.89,361.78 477.59,361.88 478.29,361.54 479,361.99 479.7,362 480.41,362.18 481.11,361.95 481.82,361.81 482.52,362.14 483.23,361.99 483.93,361.83 484.63,362.02 485.34,362.12 486.04,361.79 486.75,361.99 487.45,361.93 488.16,361.76 488.86,361.78 489.57,362.12 490.27,362.16 490.98,361.99 491.68,362.09 492.38,362.49 493.09,361.78 493.79,362.07 494.5,361.91 495.2,362.35 495.91,361.8 496.61,362.23 497.32,362.12 498.02,362.42 498.73,362.15 499.43,362.17 500.13,362.16 500.84,362.03 501.54,362.12 502.25,361.92 502.95,362.24 503.66,362.37 504.36,362.15 505.07,362.01 505.77,361.88 506.47,361.98 507.18,362.56 507.88,362.08 508.59,361.85 509.29,362.16 510,362.3 510.7,362.11 511.41,362.3 512.11,362.05 512.82,362.2 513.52,361.89 514.22,362.09 514.93,362.36 515.63,362.07 516.34,362 517.04,362.34 517.75,362.31 518.45,362.73 519.16,362.02 519.86,362.35 520.56,362.7 521.27,362.62 521.97,362.28 522.68,362.06 523.38,362.25 524.09,362.13 524.79,362.48 525.5,362.53 526.2,362.04 526.9,362.13 527.61,362.24 528.31,361.95 529.02,362.45 529.72,362.33 530.43,362.01 531.13,361.83 531.84,362.24 532.54,361.87 533.25,362.38" fill="none" stroke="#1f77b4" stroke-width="1.23" stroke-linejoin="round" marker-start="url(#mdb)" marker-mid="url(#mdb)" marker-end="url(#mdb)"/>
<marker id="mdo" markerUnits="userSpaceOnUse" markerWidth="12" markerHeight="12" viewBox="-6 -6 12 12" refX="0" refY="0" overflow="visible"><path d="M0,-2.15L0.58,-0.8L2.04,-0.66L0.94,0.31L1.26,1.74L0,0.99L-1.26,1.74L-0.94,0.31L-2.04,-0.66L-0.58,-0.8Z" fill="#ff7f0e" stroke="#ff7f0e" stroke-width="0.18" stroke-linejoin="round"/></marker>
<polyline points="322.6,342.87 323.3,349.28 324.01,352.69 324.71,354.9 325.42,355.83 326.12,354.88 326.83,355.74 327.53,356.21 328.24,356.76 328.94,356.77 329.65,357.58 330.35,356.62 331.05,357.71 331.76,357.07 332.46,356.5 333.17,356.15 333.87,355.12 334.58,355 335.28,354.46 335.99,352.81 336.69,350.59 337.39,350.35 338.1,347.93 338.8,331.32 339.51,351.5 340.21,359.09 340.92,355.79 341.62,353.14 342.33,353.22 343.03,348.9 343.74,339.65 344.44,337.97 345.14,330.3 345.85,345.66 346.55,347.46 347.26,349.66 347.96,345.45 348.67,345.68 349.37,347.5 350.08,350.27 350.78,347.95 351.48,343.05 352.19,339.76 352.89,342.42 353.6,345.35 354.3,346.71 355.01,342.56 355.71,341.49 356.42,343.76 357.12,331.96 357.83,352.71 358.53,351.31 359.23,346.86 359.94,347.25 360.64,340.3 361.35,345.26 362.05,351.32 362.76,356.24 363.46,350.57 364.17,346.7 364.87,344.21 365.57,336.86 366.28,335.12 366.98,330.69 367.69,327.63 368.39,337.53 369.1,343.28 369.8,350.79 370.51,345.45 371.21,351.78 371.92,353.3 372.62,347.5 373.32,345.78 374.03,340.22 374.73,334.49 375.44,341.39 376.14,341.18 376.85,344.59 377.55,347.68 378.26,346.57 378.96,348.99 379.66,352.39 380.37,351.76 381.07,353.22 381.78,353.88 382.48,353.21 383.19,352.05 383.89,354.66 384.6,352.28 385.3,353.45 386,350.71 386.71,349.3 387.41,346.28 388.12,338.89 388.82,331.17 389.53,330.77 390.23,335.28 390.94,334 391.64,335.42 392.35,332.34 393.05,330.93 393.75,332.18 394.46,336.47 395.16,340.78 395.87,344.48 396.57,346.99 397.28,352.61 397.98,353.21 398.69,349.29 399.39,346.75 400.1,357.12 400.8,356.44 401.5,356.05 402.21,360.83 402.91,361.01 403.62,357.54 404.32,360.13 405.03,359.99 405.73,357.51 406.44,356.65 407.14,351.08 407.84,346.82 408.55,351.5 409.25,355.25 409.96,357.26 410.66,358.06 411.37,358.73 412.07,359.7 412.78,359.97 413.48,359.87 414.19,360.59 414.89,361.06 415.59,361.11 416.3,360.39 417,361.3 417.71,360.5 418.41,360.8 419.12,361.38 419.82,361.23 420.53,361.16 421.23,361.17 421.93,361.27 422.64,360.94 423.34,361.17 424.05,361.72 424.75,361.66 425.46,361.97 426.16,361.91 426.87,361.77 427.57,361.08 428.28,358.62 428.98,348.83 429.68,317.11 430.39,345.36 431.09,349.71 431.8,341.67 432.5,336.03 433.21,335.54 433.91,331.18 434.62,329 435.32,334.2 436.02,337.23 436.73,332.61 437.43,327.6 438.14,320.97 438.84,342.63 439.55,346.86 440.25,348.86 440.96,350.25 441.66,353.91 442.37,352.82 443.07,353.01 443.77,355.26 444.48,352.96 445.18,351 445.89,348.34 446.59,346.89 447.3,340.28 448,345.63 448.71,351.4 449.41,356.39 450.11,321.64 450.82,281.63 451.52,304.79 452.23,315.26 452.93,313.95 453.64,318.61 454.34,321.02 455.05,339.9 455.75,341.49 456.46,342.34 457.16,349.02 457.86,346.7 458.57,354.38 459.27,355.65 459.98,353.47 460.68,361.1 461.39,357.56 462.09,359.94 462.8,358.68 463.5,358.18" fill="none" stroke="#ff7f0e" stroke-width="1.23" stroke-linejoin="round" marker-start="url(#mdo)" marker-mid="url(#mdo)" marker-end="url(#mdo)"/>
</g>
<rect x="312.03" y="218.96" width="232.49" height="150.34" fill="none" stroke="#757575" stroke-width="0.95"/>
<text x="322.6" y="379.66" font-size="6.83" text-anchor="middle">0</text>
<text x="357.83" y="379.66" font-size="6.83" text-anchor="middle">50</text>
<text x="393.05" y="379.66" font-size="6.83" text-anchor="middle">100</text>
<text x="428.28" y="379.66" font-size="6.83" text-anchor="middle">150</text>
<text x="463.5" y="379.66" font-size="6.83" text-anchor="middle">200</text>
<text x="498.73" y="379.66" font-size="6.83" text-anchor="middle">250</text>
<text x="533.95" y="379.66" font-size="6.83" text-anchor="middle">300</text>
<text x="307.24" y="367.97" font-size="6.83" text-anchor="end">0.0</text>
<text x="307.24" y="340.09" font-size="6.83" text-anchor="end">0.5</text>
<text x="307.24" y="312.22" font-size="6.83" text-anchor="end">1.0</text>
<text x="307.24" y="284.34" font-size="6.83" text-anchor="end">1.5</text>
<text x="307.24" y="256.47" font-size="6.83" text-anchor="end">2.0</text>
<text x="307.24" y="228.59" font-size="6.83" text-anchor="end">2.5</text>
<path d="M322.6,369.3v2.4M357.83,369.3v2.4M393.05,369.3v2.4M428.28,369.3v2.4M463.5,369.3v2.4M498.73,369.3v2.4M533.95,369.3v2.4M312.03,365.48h-2.4M312.03,337.6h-2.4M312.03,309.73h-2.4M312.03,281.85h-2.4M312.03,253.97h-2.4M312.03,226.1h-2.4" stroke="#757575" stroke-width="0.95" fill="none"/>
<text x="428.28" y="214.73" font-size="9.68" text-anchor="middle">Validation Loss</text>
<text x="428.28" y="391.49" font-size="9.68" text-anchor="middle">Epoch&#39;s</text>
<text transform="translate(291.7,293.92) rotate(-90)" font-size="9.68" text-anchor="middle">Value</text>
<rect x="397.19" y="223.61" width="141.91" height="32.62" rx="2.13" fill="#fff" fill-opacity="0.8" stroke="#d4d4d4" stroke-width="0.63"/>
<path d="M401.06,232.51H421.39" stroke="#1f77b4" stroke-width="1.23"/>
<circle cx="411.23" cy="232.51" r="2.43" fill="#1f77b4" stroke="none"/>
<text x="429.13" y="236" font-size="9.68">Multimodal-LR 0.0001</text>
<path d="M401.06,246.74H421.39" stroke="#ff7f0e" stroke-width="1.23"/>
<path d="M411.23,244.16L411.92,245.78L413.68,245.94L412.35,247.11L412.74,248.83L411.23,247.93L409.71,248.83L410.1,247.11L408.77,245.94L410.53,245.78Z" fill="#ff7f0e" stroke="none"/>
<text x="429.13" y="250.23" font-size="9.68">Multimodal-LR 1</text>
</g>
<text x="423.5" y="405.6" font-size="10.8" text-anchor="middle" font-family="Liberation Serif, DejaVu Serif, serif" fill="#111" stroke="#111" stroke-width="0.15" textLength="87.3" lengthAdjust="spacingAndGlyphs">(<tspan font-weight="bold">d</tspan>) Validation Loss</text>
<g font-family="DejaVu Sans, Liberation Sans, sans-serif" fill="#1a1a1a" stroke="#1a1a1a" stroke-width="0.16">
<clipPath id="clipe"><rect x="36.58" y="434.25" width="207.14" height="133.95"/></clipPath>
<g clip-path="url(#clipe)" stroke="none">
<marker id="meb" markerUnits="userSpaceOnUse" markerWidth="12" markerHeight="12" viewBox="-6 -6 12 12" refX="0" refY="0" overflow="visible"><circle cx="0" cy="0" r="2.17" fill="#1f77b4"/></marker>
<polyline points="46,562.29 46.63,533.61 47.26,520.47 47.88,509.71 48.51,500.15 49.14,492.47 49.77,486.25 50.39,480.93 51.02,476.32 51.65,471.44 52.28,466.08 52.9,461.41 53.53,458.11 54.16,454.7 54.79,451.83 55.42,450.32 56.04,448.4 56.67,447.75 57.3,446.41 57.93,444.99 58.55,444.24 59.18,443.7 59.81,443 60.44,442.92 61.06,442.71 61.69,442.89 62.32,442.8 62.95,442.96 63.58,443.47 64.2,444.25 64.83,444.01 65.46,443.68 66.09,445.67 66.71,445.76 67.34,446.21 67.97,446.73 68.6,447.13 69.22,447.75 69.85,448.24 70.48,448.79 71.11,449.95 71.74,450.34 72.36,451.02 72.99,451.27 73.62,452 74.25,452.61 74.87,452.23 75.5,453.23 76.13,453.76 76.76,453.72 77.39,454.67 78.01,454.82 78.64,455.21 79.27,455.9 79.9,456.4 80.52,455.95 81.15,456.41 81.78,456.69 82.41,456.55 83.03,457.28 83.66,456.79 84.29,458 84.92,458.54 85.55,458.02 86.17,458.03 86.8,457.85 87.43,458.63 88.06,458.76 88.68,458.86 89.31,458.28 89.94,459.64 90.57,459.17 91.19,459.41 91.82,459.81 92.45,459.77 93.08,459.74 93.71,460.13 94.33,459.99 94.96,459.89 95.59,459.95 96.22,460.37 96.84,460.39 97.47,460.37 98.1,460.2 98.73,460.47 99.35,460.23 99.98,460.5 100.61,461.15 101.24,460.46 101.87,460.99 102.49,460.69 103.12,460.88 103.75,460.65 104.38,460.92 105,460.91 105.63,461.43 106.26,460.56 106.89,460.93 107.51,461.04 108.14,460.54 108.77,460.72 109.4,460.78 110.03,460.68 110.65,460.76 111.28,461.05 111.91,461.07 112.54,460.39 113.16,460.31 113.79,460.41 114.42,460.43 115.05,460.2 115.67,460.1 116.3,460.25 116.93,460.02 117.56,459.98 118.19,460.31 118.81,459.85 119.44,460.29 120.07,460.56 120.7,459.63 121.32,459.85 121.95,459.08 122.58,459.91 123.21,459.19 123.83,459.44 124.46,459.2 125.09,459.51 125.72,458.42 126.35,459.1 126.97,458.34 127.6,458.86 128.23,459.09 128.86,458.88 129.48,458.17 130.11,458.62 130.74,458.34 131.37,457.86 131.99,457.85 132.62,458.36 133.25,458.05 133.88,457.42 134.51,457.93 135.13,457.4 135.76,457.51 136.39,457.83 137.02,457.29 137.64,457.45 138.27,457.15 138.9,457.31 139.53,456.8 140.16,456.91 140.78,456.53 141.41,457.01 142.04,456.65 142.67,456.2 143.29,456.06 143.92,456.02 144.55,455.97 145.18,456.34 145.8,455.9 146.43,455.75 147.06,455.76 147.69,455.54 148.32,455.77 148.94,455.32 149.57,455.53 150.2,455.6 150.83,455.69 151.45,454.85 152.08,455.42 152.71,455.27 153.34,455.33 153.96,454.2 154.59,454.15 155.22,454.83 155.85,455.02 156.48,454.63 157.1,454.5 157.73,454.35 158.36,454.01 158.99,454.32 159.61,453.97 160.24,453.72 160.87,453.63 161.5,453.54 162.12,453.72 162.75,453.5 163.38,453.15 164.01,453.64 164.64,452.89 165.26,453.19 165.89,452.7 166.52,453.38 167.15,452.64 167.77,452.83 168.4,452.26 169.03,452.51 169.66,452.67 170.28,452.04 170.91,452.42 171.54,452.42 172.17,452.28 172.8,452.15 173.42,452.03 174.05,451.91 174.68,451.36 175.31,451.24 175.93,451.08 176.56,450.79 177.19,451.09 177.82,451.2 178.44,451.44 179.07,451.12 179.7,450.9 180.33,450.44 180.96,450.92 181.58,450.19 182.21,450.12 182.84,450.56 183.47,450.51 184.09,450.32 184.72,450.47 185.35,450.48 185.98,450.25 186.6,449.87 187.23,450.59 187.86,449.66 188.49,449.31 189.12,449.35 189.74,449.15 190.37,449.97 191,449.78 191.63,448.94 192.25,449.2 192.88,448.87 193.51,449.1 194.14,448.9 194.76,449.29 195.39,449.08 196.02,448.58 196.65,448.71 197.28,448.7 197.9,448.36 198.53,448.76 199.16,448.93 199.79,448.61 200.41,448.37 201.04,447.78 201.67,448.41 202.3,447.85 202.93,447.82 203.55,447.66 204.18,447.4 204.81,447.75 205.44,447.36 206.06,447.87 206.69,447.2 207.32,447.33 207.95,447.67 208.57,447.92 209.2,447.23 209.83,447.17 210.46,446.4 211.09,446.31 211.71,447.16 212.34,446.5 212.97,446.74 213.6,446.67 214.22,446.92 214.85,446.54 215.48,446.27 216.11,446.47 216.73,446.01 217.36,446.08 217.99,445.53 218.62,445.72 219.25,445.72 219.87,445.73 220.5,445.79 221.13,445.32 221.76,445.67 222.38,445.2 223.01,445.34 223.64,445.19 224.27,444.57 224.89,444.84 225.52,444.74 226.15,444.98 226.78,444.77 227.41,444.63 228.03,444.81 228.66,444.77 229.29,444.34 229.92,443.94 230.54,444.56 231.17,444.09 231.8,444.23 232.43,443.8 233.05,443.74 233.68,444.11" fill="none" stroke="#1f77b4" stroke-width="1.1" stroke-linejoin="round" marker-start="url(#meb)" marker-mid="url(#meb)" marker-end="url(#meb)"/>
<marker id="meo" markerUnits="userSpaceOnUse" markerWidth="12" markerHeight="12" viewBox="-6 -6 12 12" refX="0" refY="0" overflow="visible"><path d="M0,-1.91L0.52,-0.71L1.82,-0.59L0.84,0.27L1.13,1.55L0,0.88L-1.13,1.55L-0.84,0.27L-1.82,-0.59L-0.52,-0.71Z" fill="#ff7f0e" stroke="#ff7f0e" stroke-width="0.16" stroke-linejoin="round"/></marker>
<polyline points="46,512.1 46.63,495.37 47.26,489.4 47.88,486.43 48.51,482.08 49.14,483.38 49.77,479.66 50.39,478.41 51.02,477.04 51.65,475.83 52.28,472.93 52.9,470.56 53.53,474.5 54.16,469.5 54.79,470.5 55.42,469.32 56.04,472 56.67,468.55 57.3,464.93 57.93,469.73 58.55,470.94 59.18,469.54 59.81,464.33 60.44,458.87 61.06,460.69 61.69,457.91 62.32,459.71 62.95,455.32 63.58,461.9 64.2,462.98 64.83,473.64 65.46,469.61 66.09,465.37 66.71,462.37 67.34,458.99 67.97,458.38 68.6,456.51 69.22,455.54 69.85,452.34 70.48,454.01 71.11,452.44 71.74,453.16 72.36,453.49 72.99,452.82 73.62,453.6 74.25,453.51 74.87,454.11 75.5,453.96 76.13,454.2 76.76,458.47 77.39,461.93 78.01,466.65 78.64,472.46 79.27,468.4 79.9,463.49 80.52,459.33 81.15,455.08 81.78,454.34 82.41,453.17 83.03,451.26 83.66,448.99 84.29,448.77 84.92,446.73 85.55,448 86.17,446.93 86.8,446.88 87.43,445.26 88.06,447.49 88.68,446.36 89.31,446.01 89.94,445.47 90.57,445.22 91.19,445.74 91.82,444.47 92.45,445 93.08,442.82 93.71,446.38 94.33,444.11 94.96,445.46 95.59,444.99 96.22,442.09 96.84,442.08 97.47,445.28 98.1,443.54 98.73,443.21 99.35,445.01 99.98,442.84 100.61,442.5 101.24,442.76 101.87,444.97 102.49,442.09 103.12,443.01 103.75,443.39 104.38,444.14 105,442.83 105.63,442.72 106.26,444.46 106.89,444.31 107.51,444 108.14,447.05 108.77,446.26 109.4,449.39 110.03,449.11 110.65,448.44 111.28,449.68 111.91,450.58 112.54,450.24 113.16,448.91 113.79,448.81 114.42,449.58 115.05,447.89 115.67,447.96 116.3,444.55 116.93,447.35 117.56,446.73 118.19,446.55 118.81,446.42 119.44,445.66 120.07,445.32 120.7,446.91 121.32,445.7 121.95,446.2 122.58,443.46 123.21,441.99 123.83,442.72 124.46,443.42 125.09,442.47 125.72,442.99 126.35,441.27 126.97,441.91 127.6,442.69 128.23,443.46 128.86,442.91 129.48,441.91 130.11,443.3 130.74,442.26 131.37,440.68 131.99,441.85 132.62,439.89 133.25,440.32 133.88,441.9 134.51,442.84 135.13,441.5 135.76,441.79 136.39,440.86 137.02,439.56 137.64,442.06 138.27,441.24 138.9,440.43 139.53,439.55 140.16,440.03 140.78,440 141.41,439.3 142.04,440.3 142.67,441.18 143.29,441.09 143.92,442.01 144.55,440.99 145.18,440.8 145.8,444.74 146.43,440.91 147.06,442.05 147.69,441.48 148.32,441.21 148.94,443.96 149.57,442.83 150.2,441.93 150.83,442.29 151.45,441.19 152.08,441.88 152.71,442.96 153.34,440.68 153.96,440.14 154.59,440.59 155.22,441.75 155.85,441.25 156.48,440.42 157.1,440.3 157.73,440.55 158.36,442.43 158.99,444.15 159.61,444.51 160.24,444.43 160.87,443.63 161.5,441.62 162.12,443.04 162.75,442.32 163.38,442.56 164.01,442.62 164.64,441.33 165.26,441.58 165.89,441.95 166.52,442.63 167.15,441.62 167.77,441.79 168.4,440.13 169.03,440.33 169.66,442.12 170.28,439.94 170.91,441.51 171.54,440.75" fill="none" stroke="#ff7f0e" stroke-width="1.1" stroke-linejoin="round" marker-start="url(#meo)" marker-mid="url(#meo)" marker-end="url(#meo)"/>
</g>
<rect x="36.58" y="434.25" width="207.14" height="133.95" fill="none" stroke="#757575" stroke-width="0.95"/>
<text x="46" y="577.43" font-size="6.09" text-anchor="middle">0</text>
<text x="77.39" y="577.43" font-size="6.09" text-anchor="middle">50</text>
<text x="108.77" y="577.43" font-size="6.09" text-anchor="middle">100</text>
<text x="140.16" y="577.43" font-size="6.09" text-anchor="middle">150</text>
<text x="171.54" y="577.43" font-size="6.09" text-anchor="middle">200</text>
<text x="202.93" y="577.43" font-size="6.09" text-anchor="middle">250</text>
<text x="234.31" y="577.43" font-size="6.09" text-anchor="middle">300</text>
<text x="32.32" y="550.17" font-size="6.09" text-anchor="end">0.5</text>
<text x="32.32" y="526.27" font-size="6.09" text-anchor="end">0.6</text>
<text x="32.32" y="502.37" font-size="6.09" text-anchor="end">0.7</text>
<text x="32.32" y="478.47" font-size="6.09" text-anchor="end">0.8</text>
<text x="32.32" y="454.57" font-size="6.09" text-anchor="end">0.9</text>
<path d="M46,568.2v2.13M77.39,568.2v2.13M108.77,568.2v2.13M140.16,568.2v2.13M171.54,568.2v2.13M202.93,568.2v2.13M234.31,568.2v2.13M36.58,547.95h-2.13M36.58,524.05h-2.13M36.58,500.15h-2.13M36.58,476.25h-2.13M36.58,452.35h-2.13" stroke="#757575" stroke-width="0.95" fill="none"/>
<text x="140.16" y="430.48" font-size="8.62" text-anchor="middle">Precision</text>
<text x="140.16" y="587.97" font-size="8.62" text-anchor="middle">Epoch&#39;s</text>
<text transform="translate(19.3,502.29) rotate(-90)" font-size="8.62" text-anchor="middle">Percentage</text>
<rect x="112.46" y="535" width="126.44" height="29.06" rx="1.9" fill="#fff" fill-opacity="0.8" stroke="#d4d4d4" stroke-width="0.56"/>
<path d="M115.91,542.93H134.02" stroke="#1f77b4" stroke-width="1.1"/>
<circle cx="124.96" cy="542.93" r="2.17" fill="#1f77b4" stroke="none"/>
<text x="140.92" y="546.03" font-size="8.62">Multimodal-LR 0.0001</text>
<path d="M115.91,555.61H134.02" stroke="#ff7f0e" stroke-width="1.1"/>
<path d="M124.96,553.31L125.59,554.75L127.15,554.9L125.97,555.93L126.32,557.47L124.96,556.66L123.61,557.47L123.96,555.93L122.78,554.9L124.34,554.75Z" fill="#ff7f0e" stroke="none"/>
<text x="140.92" y="558.71" font-size="8.62">Multimodal-LR 1</text>
</g>
<text x="134.8" y="606.6" font-size="10.8" text-anchor="middle" font-family="Liberation Serif, DejaVu Serif, serif" fill="#111" stroke="#111" stroke-width="0.15" textLength="57.6" lengthAdjust="spacingAndGlyphs">(<tspan font-weight="bold">e</tspan>) Precision</text>
<g font-family="DejaVu Sans, Liberation Sans, sans-serif" fill="#1a1a1a" stroke="#1a1a1a" stroke-width="0.16">
<clipPath id="clipf"><rect x="319.53" y="431.15" width="217.04" height="140.35"/></clipPath>
<g clip-path="url(#clipf)" stroke="none">
<marker id="mfb" markerUnits="userSpaceOnUse" markerWidth="12" markerHeight="12" viewBox="-6 -6 12 12" refX="0" refY="0" overflow="visible"><circle cx="0" cy="0" r="2.27" fill="#1f77b4"/></marker>
<polyline points="329.4,565.28 330.06,553.91 330.72,540.8 331.37,532.05 332.03,523.31 332.69,517.85 333.35,513.47 334,509.1 334.66,504.81 335.32,502.45 335.98,498.95 336.63,495.54 337.29,491.67 337.95,489.08 338.61,488.11 339.27,485.36 339.92,481.13 340.58,477.73 341.24,476.46 341.9,474.47 342.55,470.54 343.21,469.47 343.87,466.54 344.53,464.6 345.18,464.56 345.84,464.38 346.5,463.21 347.16,463.85 347.82,462.94 348.47,462.81 349.13,461.97 349.79,461.68 350.45,461.12 351.1,460.81 351.76,460.19 352.42,459.83 353.08,459.36 353.73,458.48 354.39,459.57 355.05,457.87 355.71,458.29 356.37,458.45 357.02,457.64 357.68,457.24 358.34,456.53 359,457.37 359.65,456.6 360.31,456.51 360.97,457.25 361.63,456.89 362.28,455.93 362.94,455.78 363.6,455.5 364.26,455.68 364.92,455.66 365.57,455.7 366.23,455.1 366.89,456 367.55,455.58 368.2,455.24 368.86,456.1 369.52,454.63 370.18,455.57 370.84,455.15 371.49,454.01 372.15,455.38 372.81,455.17 373.47,454.1 374.12,455.32 374.78,454.96 375.44,454.46 376.1,454.45 376.75,454.35 377.41,454.42 378.07,453.92 378.73,454.04 379.39,454.21 380.04,454.8 380.7,454.78 381.36,455.33 382.02,454.05 382.67,455.23 383.33,453.91 383.99,453.42 384.65,454.8 385.3,454.6 385.96,454.49 386.62,453.85 387.28,454.65 387.94,454.3 388.59,454.48 389.25,454.41 389.91,453.82 390.57,455.11 391.22,454.85 391.88,455 392.54,454.93 393.2,456.1 393.85,455.01 394.51,455.32 395.17,455.06 395.83,455.38 396.49,456.11 397.14,455.54 397.8,454.72 398.46,454.98 399.12,454.91 399.77,453.9 400.43,453.56 401.09,454.47 401.75,453.35 402.4,455.05 403.06,454.89 403.72,453.3 404.38,453.66 405.04,453.08 405.69,452.94 406.35,453.07 407.01,452.53 407.67,452.61 408.32,453.25 408.98,452.24 409.64,452.09 410.3,451.12 410.95,452.38 411.61,451.66 412.27,451.71 412.93,451.4 413.59,450.38 414.24,450.83 414.9,451.08 415.56,450.63 416.22,450.18 416.87,450.88 417.53,450.39 418.19,449.38 418.85,449.58 419.5,449.88 420.16,449.97 420.82,449.69 421.48,450.24 422.14,448.93 422.79,449.11 423.45,449.1 424.11,449.68 424.77,449.3 425.42,448.6 426.08,448.63 426.74,448.89 427.4,448.31 428.05,448 428.71,448.68 429.37,448.52 430.03,448.58 430.69,448.62 431.34,447.58 432,447.62 432.66,447.6 433.32,448.23 433.97,448.06 434.63,447.49 435.29,447.55 435.95,447.18 436.61,447.47 437.26,446.71 437.92,446.06 438.58,446.07 439.24,445.93 439.89,446.56 440.55,446.05 441.21,446.56 441.87,445.83 442.52,446.35 443.18,446.29 443.84,446.26 444.5,445.5 445.16,445.59 445.81,445.52 446.47,446.05 447.13,445.32 447.79,445.97 448.44,444.45 449.1,445.11 449.76,444.84 450.42,444.86 451.07,445.45 451.73,445.22 452.39,444.44 453.05,443.57 453.71,444.69 454.36,444.35 455.02,443.9 455.68,444.55 456.34,444.42 456.99,443.67 457.65,443.36 458.31,443.4 458.97,442.36 459.62,443.06 460.28,442.69 460.94,441.99 461.6,441.85 462.26,443.34 462.91,442.68 463.57,441.87 464.23,443.03 464.89,442.75 465.54,442.87 466.2,442.84 466.86,442.68 467.52,442 468.17,441.42 468.83,441.25 469.49,441.93 470.15,442.84 470.81,441.88 471.46,441.98 472.12,441.6 472.78,441.8 473.44,442.56 474.09,441.46 474.75,442.62 475.41,441.92 476.07,441.4 476.72,441.35 477.38,440.73 478.04,442.58 478.7,441.25 479.36,441.05 480.01,441.5 480.67,441 481.33,441.8 481.99,440.92 482.64,440.94 483.3,441.63 483.96,441.44 484.62,441.17 485.27,441.35 485.93,440.49 486.59,440.86 487.25,440.27 487.91,440.28 488.56,440.77 489.22,440.84 489.88,441.16 490.54,441.04 491.19,440.98 491.85,440.38 492.51,440.92 493.17,440.4 493.82,440.29 494.48,440.57 495.14,440.37 495.8,439.53 496.46,439.39 497.11,440.48 497.77,440.14 498.43,440.17 499.09,440.06 499.74,439.13 500.4,439.47 501.06,439.13 501.72,438.8 502.38,439.78 503.03,439.57 503.69,439.36 504.35,438.79 505.01,439.23 505.66,438.78 506.32,438.44 506.98,438.37 507.64,438.64 508.29,439.17 508.95,439.5 509.61,438.18 510.27,438.49 510.93,439.18 511.58,439.04 512.24,439.11 512.9,439.81 513.56,439.02 514.21,439.67 514.87,439.58 515.53,439.22 516.19,439.75 516.84,439.54 517.5,439.69 518.16,439.97 518.82,440.05 519.48,439.26 520.13,440.33 520.79,439.54 521.45,440.85 522.11,440.13 522.76,440.48 523.42,440.98 524.08,441.98 524.74,440 525.39,441.39 526.05,441.36" fill="none" stroke="#1f77b4" stroke-width="1.15" stroke-linejoin="round" marker-start="url(#mfb)" marker-mid="url(#mfb)" marker-end="url(#mfb)"/>
<marker id="mfo" markerUnits="userSpaceOnUse" markerWidth="12" markerHeight="12" viewBox="-6 -6 12 12" refX="0" refY="0" overflow="visible"><path d="M0,-2.01L0.54,-0.75L1.91,-0.62L0.88,0.29L1.18,1.62L0,0.92L-1.18,1.62L-0.88,0.29L-1.91,-0.62L-0.54,-0.75Z" fill="#ff7f0e" stroke="#ff7f0e" stroke-width="0.17" stroke-linejoin="round"/></marker>
<polyline points="329.4,497 330.06,497.97 330.72,496.67 331.37,498.5 332.03,495.47 332.69,497.62 333.35,495.59 334,495.37 334.66,495.77 335.32,491.35 335.98,494.74 336.63,493.17 337.29,492.09 337.95,494.22 338.61,491.02 339.27,491.91 339.92,489.96 340.58,491.35 341.24,490.77 341.9,484.39 342.55,481.23 343.21,477.58 343.87,472.99 344.53,465.9 345.18,469.92 345.84,473.59 346.5,475.53 347.16,479.69 347.82,484.2 348.47,491.88 349.13,486.73 349.79,476.57 350.45,473.45 351.1,471.27 351.76,468.94 352.42,466.39 353.08,466.69 353.73,465.51 354.39,463.81 355.05,463.72 355.71,462.73 356.37,461.12 357.02,458.46 357.68,458.47 358.34,458.1 359,458.92 359.65,458.95 360.31,466.21 360.97,478.99 361.63,481.85 362.28,479.66 362.94,476.46 363.6,481.17 364.26,480.12 364.92,474.01 365.57,467.84 366.23,464.7 366.89,462.74 367.55,458.99 368.2,455.26 368.86,450.14 369.52,444.22 370.18,447.98 370.84,450.43 371.49,452.31 372.15,454.43 372.81,454.05 373.47,448.95 374.12,450.04 374.78,448.56 375.44,451.61 376.1,454.98 376.75,461.66 377.41,472.69 378.07,458.31 378.73,454.08 379.39,452.33 380.04,456.42 380.7,461.2 381.36,458.72 382.02,457.01 382.67,454.11 383.33,449.2 383.99,446.88 384.65,443.34 385.3,444.62 385.96,444.6 386.62,440.96 387.28,441.95 387.94,441.38 388.59,442.53 389.25,443.8 389.91,443.51 390.57,442.21 391.22,443.72 391.88,446 392.54,444.92 393.2,448.38 393.85,449.06 394.51,449.94 395.17,453.32 395.83,456.08 396.49,457.71 397.14,460.22 397.8,462.81 398.46,462.06 399.12,461.56 399.77,460.77 400.43,456.15 401.09,459.73 401.75,455.1 402.4,455.09 403.06,450.88 403.72,448.95 404.38,447.91 405.04,447.21 405.69,446.12 406.35,442.03 407.01,442.96 407.67,445.57 408.32,445.14 408.98,446.95 409.64,450.26 410.3,448.82 410.95,447.53 411.61,445.98 412.27,446.45 412.93,447.25 413.59,446.1 414.24,444.67 414.9,446.35 415.56,445.07 416.22,443.26 416.87,440.93 417.53,441.97 418.19,441.52 418.85,439.41 419.5,442.65 420.16,442.26 420.82,440.51 421.48,440.22 422.14,440.87 422.79,444.2 423.45,440.67 424.11,440.9 424.77,441.72 425.42,441.19 426.08,440.52 426.74,442.15 427.4,445.49 428.05,448.74 428.71,448.92 429.37,455.56 430.03,461.19 430.69,456.78 431.34,453.39 432,451.02 432.66,454.3 433.32,458.95 433.97,455.23 434.63,454.33 435.29,449.52 435.95,440.9 436.61,446.4 437.26,448.04 437.92,447.39 438.58,449.58 439.24,449.25 439.89,447.77 440.55,444.89 441.21,445.7 441.87,441.76 442.52,442.2 443.18,440.75 443.84,441.36 444.5,442.09 445.16,440.35 445.81,440.62 446.47,443.98 447.13,445.89 447.79,447.9 448.44,447.4 449.1,479.19 449.76,455.58 450.42,451.62 451.07,450.24 451.73,448.73 452.39,447.7 453.05,449.43 453.71,447.62 454.36,447.88 455.02,449.24 455.68,447.73 456.34,446.37 456.99,445.75 457.65,445.05 458.31,444.79 458.97,443.25 459.62,444.22 460.28,444.43 460.94,441.65" fill="none" stroke="#ff7f0e" stroke-width="1.15" stroke-linejoin="round" marker-start="url(#mfo)" marker-mid="url(#mfo)" marker-end="url(#mfo)"/>
</g>
<rect x="319.53" y="431.15" width="217.04" height="140.35" fill="none" stroke="#757575" stroke-width="0.95"/>
<text x="329.4" y="581.17" font-size="6.38" text-anchor="middle">0</text>
<text x="362.28" y="581.17" font-size="6.38" text-anchor="middle">50</text>
<text x="395.17" y="581.17" font-size="6.38" text-anchor="middle">100</text>
<text x="428.05" y="581.17" font-size="6.38" text-anchor="middle">150</text>
<text x="460.94" y="581.17" font-size="6.38" text-anchor="middle">200</text>
<text x="493.82" y="581.17" font-size="6.38" text-anchor="middle">250</text>
<text x="526.71" y="581.17" font-size="6.38" text-anchor="middle">300</text>
<text x="315.06" y="558.43" font-size="6.38" text-anchor="end">0.4</text>
<text x="315.06" y="536.57" font-size="6.38" text-anchor="end">0.5</text>
<text x="315.06" y="514.71" font-size="6.38" text-anchor="end">0.6</text>
<text x="315.06" y="492.85" font-size="6.38" text-anchor="end">0.7</text>
<text x="315.06" y="470.99" font-size="6.38" text-anchor="end">0.8</text>
<text x="315.06" y="449.13" font-size="6.38" text-anchor="end">0.9</text>
<path d="M329.4,571.5v2.24M362.28,571.5v2.24M395.17,571.5v2.24M428.05,571.5v2.24M460.94,571.5v2.24M493.82,571.5v2.24M526.71,571.5v2.24M319.53,556.1h-2.24M319.53,534.24h-2.24M319.53,512.38h-2.24M319.53,490.52h-2.24M319.53,468.66h-2.24M319.53,446.8h-2.24" stroke="#757575" stroke-width="0.95" fill="none"/>
<text x="428.05" y="427.2" font-size="9.04" text-anchor="middle">Validation Precision</text>
<text x="428.05" y="592.22" font-size="9.04" text-anchor="middle">Epoch&#39;s</text>
<text transform="translate(300.3,502.44) rotate(-90)" font-size="9.04" text-anchor="middle">Percentage</text>
<rect x="399.04" y="536.71" width="132.48" height="30.45" rx="1.99" fill="#fff" fill-opacity="0.8" stroke="#d4d4d4" stroke-width="0.59"/>
<path d="M402.65,545.02H421.63" stroke="#1f77b4" stroke-width="1.15"/>
<circle cx="412.14" cy="545.02" r="2.27" fill="#1f77b4" stroke="none"/>
<text x="428.86" y="548.28" font-size="9.04">Multimodal-LR 0.0001</text>
<path d="M402.65,558.31H421.63" stroke="#ff7f0e" stroke-width="1.15"/>
<path d="M412.14,555.9L412.79,557.41L414.43,557.56L413.19,558.65L413.55,560.25L412.14,559.41L410.72,560.25L411.09,558.65L409.85,557.56L411.49,557.41Z" fill="#ff7f0e" stroke="none"/>
<text x="428.86" y="561.56" font-size="9.04">Multimodal-LR 1</text>
</g>
<text x="423.5" y="606.4" font-size="10.8" text-anchor="middle" font-family="Liberation Serif, DejaVu Serif, serif" fill="#111" stroke="#111" stroke-width="0.15" textLength="107.1" lengthAdjust="spacingAndGlyphs">(<tspan font-weight="bold">f</tspan>) Validation Precision</text>
<g font-family="DejaVu Sans, Liberation Sans, sans-serif" fill="#1a1a1a" stroke="#1a1a1a" stroke-width="0.16">
<clipPath id="clipg"><rect x="37.06" y="634.48" width="209.88" height="135.72"/></clipPath>
<g clip-path="url(#clipg)" stroke="none">
<marker id="mgb" markerUnits="userSpaceOnUse" markerWidth="12" markerHeight="12" viewBox="-6 -6 12 12" refX="0" refY="0" overflow="visible"><circle cx="0" cy="0" r="2.19" fill="#1f77b4"/></marker>
<polyline points="46.6,765.1 47.24,675.31 47.87,660.71 48.51,655.6 49.14,651.95 49.78,649.87 50.42,648.1 51.05,646.12 51.69,644.43 52.32,644 52.96,643.34 53.6,642.95 54.23,642.38 54.87,642.27 55.5,641.89 56.14,641.79 56.78,641.66 57.41,641.24 58.05,641.36 58.68,641.39 59.32,641.51 59.96,641.19 60.59,641.22 61.23,641.52 61.86,641.38 62.5,641.32 63.14,641.59 63.77,641.39 64.41,641.14 65.04,641.58 65.68,641.27 66.32,641.06 66.95,641.43 67.59,641.4 68.22,641.3 68.86,641.26 69.5,641.27 70.13,641.55 70.77,641.44 71.4,641.31 72.04,641.37 72.68,641.15 73.31,641.37 73.95,641.37 74.58,641.04 75.22,641.33 75.86,641.45 76.49,641.31 77.13,641.34 77.76,641.2 78.4,641.24 79.04,641.35 79.67,641.36 80.31,641.38 80.94,641.1 81.58,641 82.22,641.3 82.85,641.21 83.49,641.24 84.12,641.36 84.76,641.36 85.4,641.35 86.03,641.56 86.67,641.39 87.3,641.21 87.94,641.14 88.58,641.31 89.21,641.33 89.85,641.18 90.48,640.97 91.12,641.41 91.76,641.38 92.39,641.33 93.03,641.19 93.66,641.39 94.3,641.19 94.94,641.37 95.57,641.18 96.21,641.3 96.84,641.32 97.48,641.14 98.12,641.43 98.75,641.36 99.39,641.14 100.02,641.14 100.66,641.22 101.3,641.57 101.93,641.14 102.57,641.19 103.2,641.29 103.84,641.53 104.48,641.12 105.11,640.98 105.75,641.16 106.38,641.04 107.02,641.33 107.66,641.21 108.29,641.33 108.93,641.4 109.56,641.28 110.2,641.36 110.84,641.34 111.47,641.34 112.11,641.29 112.74,641.27 113.38,641.2 114.02,641.4 114.65,641.17 115.29,641.49 115.92,641.21 116.56,641.21 117.2,641.56 117.83,641.27 118.47,641.06 119.1,641.15 119.74,641.28 120.38,641.29 121.01,641.17 121.65,641.19 122.28,641.09 122.92,641.19 123.56,641.07 124.19,641.15 124.83,641.32 125.46,641.35 126.1,641.28 126.74,641.14 127.37,641.33 128.01,641.07 128.64,641.42 129.28,641.24 129.92,641.33 130.55,641.15 131.19,641.18 131.82,641.22 132.46,641.37 133.1,641.32 133.73,641.29 134.37,641.05 135,641.28 135.64,641.12 136.28,641.05 136.91,641.31 137.55,641.26 138.18,641.51 138.82,641.25 139.46,641.08 140.09,641.32 140.73,641.13 141.36,641.07 142,641.13 142.64,641.25 143.27,641.15 143.91,641.28 144.54,641.24 145.18,640.83 145.82,641.25 146.45,641.28 147.09,641.15 147.72,641.14 148.36,641.07 149,641.29 149.63,641.33 150.27,641.32 150.9,641.06 151.54,641.02 152.18,641.28 152.81,641.25 153.45,641.18 154.08,641.31 154.72,641.24 155.36,641.03 155.99,641.35 156.63,641.12 157.26,641 157.9,641.33 158.54,641.01 159.17,641.17 159.81,641.24 160.44,641.04 161.08,641.15 161.72,641.2 162.35,641.25 162.99,641.29 163.62,641.24 164.26,641.2 164.9,641.05 165.53,641.2 166.17,641.12 166.8,641.22 167.44,641.09 168.08,641.17 168.71,640.98 169.35,641.12 169.98,641.4 170.62,641.18 171.26,641.22 171.89,641.02 172.53,641.16 173.16,641.03 173.8,641.05 174.44,641.25 175.07,641.2 175.71,641.15 176.34,641.31 176.98,640.66 177.62,641.08 178.25,641.34 178.89,641.36 179.52,641.14 180.16,641.21 180.8,641.38 181.43,641.41 182.07,641.15 182.7,641.22 183.34,641.1 183.98,641.17 184.61,640.99 185.25,641.42 185.88,641.06 186.52,641.27 187.16,641.29 187.79,641.01 188.43,641.43 189.06,641.16 189.7,641.2 190.34,640.98 190.97,641.36 191.61,641.1 192.24,641.08 192.88,641.15 193.52,641.13 194.15,641.17 194.79,641.36 195.42,641.23 196.06,641.43 196.7,641.01 197.33,641.01 197.97,641.36 198.6,640.97 199.24,641.17 199.88,641.37 200.51,641.26 201.15,641.06 201.78,641.16 202.42,641.31 203.06,641.05 203.69,641.18 204.33,641.22 204.96,641.33 205.6,641.07 206.24,641.03 206.87,641.3 207.51,641.19 208.14,641.19 208.78,641.13 209.42,641.31 210.05,640.86 210.69,641.11 211.32,641.02 211.96,641.2 212.6,640.84 213.23,641.08 213.87,641.41 214.5,641 215.14,641.15 215.78,641.3 216.41,641.16 217.05,641.28 217.68,641.04 218.32,641.06 218.96,641.35 219.59,641.05 220.23,640.99 220.86,641.51 221.5,640.96 222.14,641.05 222.77,641.03 223.41,640.94 224.04,641.15 224.68,641.27 225.32,641.09 225.95,641.17 226.59,641.08 227.22,641.49 227.86,641.21 228.5,640.77 229.13,641.09 229.77,641 230.4,641.1 231.04,641.2 231.68,641.02 232.31,641.04 232.95,641.2 233.58,641.17 234.22,641.05 234.86,641.26 235.49,641.27 236.13,640.97 236.76,640.98" fill="none" stroke="#1f77b4" stroke-width="1.11" stroke-linejoin="round" marker-start="url(#mgb)" marker-mid="url(#mgb)" marker-end="url(#mgb)"/>
<marker id="mgo" markerUnits="userSpaceOnUse" markerWidth="12" markerHeight="12" viewBox="-6 -6 12 12" refX="0" refY="0" overflow="visible"><path d="M0,-2.52L0.68,-0.94L2.4,-0.78L1.1,0.36L1.48,2.04L0,1.16L-1.48,2.04L-1.1,0.36L-2.4,-0.78L-0.68,-0.94Z" fill="#ff7f0e" stroke="#ff7f0e" stroke-width="0.17" stroke-linejoin="round"/></marker>
<polyline points="46.6,675.31 47.24,642.46 47.87,641.98 48.51,641.39 49.14,642.1 49.78,641.42 50.42,641.91 51.05,641.44 51.69,641.56 52.32,641.75 52.96,641.42 53.6,641.36 54.23,641.75 54.87,641.59 55.5,641.42 56.14,641.58 56.78,641.64 57.41,641.63 58.05,641.43 58.68,642.04 59.32,641.77 59.96,641.65 60.59,641.71 61.23,641.81 61.86,641.54 62.5,641.7 63.14,641.67 63.77,641.65 64.41,641.34 65.04,641.33 65.68,641.82 66.32,641.41 66.95,641.81 67.59,641.66 68.22,641.5 68.86,641.38 69.5,641.44 70.13,641.98 70.77,641.5 71.4,641.53 72.04,641.43 72.68,641.46 73.31,641.32 73.95,641.68 74.58,641.93 75.22,641.43 75.86,641.84 76.49,641.84 77.13,641.35 77.76,641.74 78.4,642.1 79.04,641.86 79.67,641.41 80.31,641.36 80.94,641.59 81.58,641.49 82.22,642.28 82.85,641.4 83.49,641.74 84.12,641.51 84.76,641.65 85.4,642.19 86.03,641.36 86.67,641.61 87.3,641.33 87.94,641.97 88.58,641.36 89.21,641.67 89.85,641.93 90.48,642.15 91.12,641.81 91.76,641.87 92.39,641.92 93.03,641.51 93.66,641.68 94.3,641.49 94.94,641.49 95.57,641.44 96.21,641.63 96.84,641.94 97.48,641.74 98.12,641.63 98.75,641.64 99.39,641.74 100.02,641.56 100.66,642.17 101.3,641.77 101.93,641.95 102.57,641.75 103.2,642.04 103.84,641.61 104.48,641.69 105.11,641.6 105.75,641.87 106.38,641.75 107.02,642.46 107.66,642.75 108.29,641.97 108.93,641.93 109.56,643.45 110.2,641.9 110.84,642.1 111.47,641.62 112.11,642.14 112.74,641.74 113.38,642.55 114.02,642.45 114.65,641.91 115.29,642.06 115.92,641.7 116.56,641.69 117.2,642.77 117.83,642.89 118.47,642.2 119.1,642.24 119.74,641.8 120.38,644.37 121.01,642.17 121.65,642.39 122.28,642.5 122.92,642.2 123.56,642.19 124.19,641.72 124.83,641.98 125.46,643.36 126.1,642.8 126.74,642.13 127.37,641.87 128.01,641.81 128.64,642.85 129.28,643.09 129.92,641.75 130.55,642.2 131.19,641.8 131.82,642.34 132.46,641.76 133.1,643.62 133.73,642.02 134.37,641.7 135,642.81 135.64,642.04 136.28,643.25 136.91,642.23 137.55,642.38 138.18,643.14 138.82,642.23 139.46,643 140.09,642.63 140.73,641.49 141.36,641.82 142,641.51 142.64,641.38 143.27,641.59 143.91,642.61 144.54,642.64 145.18,641.73 145.82,642.86 146.45,641.99 147.09,642.56 147.72,641.81 148.36,641.83 149,642 149.63,642.03 150.27,641.64 150.9,642.1 151.54,642.22 152.18,641.56 152.81,641.63 153.45,642.08 154.08,641.81 154.72,642.04 155.36,641.95 155.99,641.99 156.63,642.84 157.26,643.74 157.9,643.6 158.54,642.93 159.17,643.6 159.81,643.61 160.44,643.55 161.08,643.78 161.72,644.27 162.35,644.61 162.99,644.6 163.62,644.97 164.26,645.14 164.9,643.4 165.53,644.08 166.17,643.41 166.8,644.01 167.44,644.82 168.08,643.93 168.71,643.06 169.35,643.16 169.98,642.88 170.62,642.29 171.26,643.02 171.89,641.84 172.53,641.72 173.16,641.97 173.8,643.05" fill="none" stroke="#ff7f0e" stroke-width="1.11" stroke-linejoin="round" marker-start="url(#mgo)" marker-mid="url(#mgo)" marker-end="url(#mgo)"/>
</g>
<rect x="37.06" y="634.48" width="209.88" height="135.72" fill="none" stroke="#757575" stroke-width="0.95"/>
<text x="46.6" y="779.55" font-size="6.17" text-anchor="middle">0</text>
<text x="78.4" y="779.55" font-size="6.17" text-anchor="middle">50</text>
<text x="110.2" y="779.55" font-size="6.17" text-anchor="middle">100</text>
<text x="142" y="779.55" font-size="6.17" text-anchor="middle">150</text>
<text x="173.8" y="779.55" font-size="6.17" text-anchor="middle">200</text>
<text x="205.6" y="779.55" font-size="6.17" text-anchor="middle">250</text>
<text x="237.4" y="779.55" font-size="6.17" text-anchor="middle">300</text>
<text x="32.74" y="771" font-size="6.17" text-anchor="end">0.825</text>
<text x="32.74" y="752.75" font-size="6.17" text-anchor="end">0.850</text>
<text x="32.74" y="734.5" font-size="6.17" text-anchor="end">0.875</text>
<text x="32.74" y="716.25" font-size="6.17" text-anchor="end">0.900</text>
<text x="32.74" y="698" font-size="6.17" text-anchor="end">0.925</text>
<text x="32.74" y="679.75" font-size="6.17" text-anchor="end">0.950</text>
<text x="32.74" y="661.5" font-size="6.17" text-anchor="end">0.975</text>
<text x="32.74" y="643.25" font-size="6.17" text-anchor="end">1.000</text>
<path d="M46.6,770.2v2.16M78.4,770.2v2.16M110.2,770.2v2.16M142,770.2v2.16M173.8,770.2v2.16M205.6,770.2v2.16M237.4,770.2v2.16M37.06,768.75h-2.16M37.06,750.5h-2.16M37.06,732.25h-2.16M37.06,714h-2.16M37.06,695.75h-2.16M37.06,677.5h-2.16M37.06,659.25h-2.16M37.06,641h-2.16" stroke="#757575" stroke-width="0.95" fill="none"/>
<text x="142" y="630.66" font-size="8.74" text-anchor="middle">Recall</text>
<text x="142" y="790.23" font-size="8.74" text-anchor="middle">Epoch&#39;s</text>
<text transform="translate(11.3,703.42) rotate(-90)" font-size="8.74" text-anchor="middle">Percentage</text>
<rect x="113.94" y="736.56" width="128.11" height="29.45" rx="1.92" fill="#fff" fill-opacity="0.8" stroke="#d4d4d4" stroke-width="0.57"/>
<path d="M117.43,744.6H135.78" stroke="#1f77b4" stroke-width="1.11"/>
<circle cx="126.61" cy="744.6" r="2.19" fill="#1f77b4" stroke="none"/>
<text x="142.78" y="747.74" font-size="8.74">Multimodal-LR 0.0001</text>
<path d="M117.43,757.44H135.78" stroke="#ff7f0e" stroke-width="1.11"/>
<path d="M126.61,755.11L127.24,756.58L128.82,756.72L127.63,757.77L127.98,759.32L126.61,758.51L125.24,759.32L125.59,757.77L124.4,756.72L125.98,756.58Z" fill="#ff7f0e" stroke="none"/>
<text x="142.78" y="760.59" font-size="8.74">Multimodal-LR 1</text>
</g>
<text x="134.7" y="808" font-size="10.8" text-anchor="middle" font-family="Liberation Serif, DejaVu Serif, serif" fill="#111" stroke="#111" stroke-width="0.15" textLength="43.4" lengthAdjust="spacingAndGlyphs">(<tspan font-weight="bold">g</tspan>) Recall</text>
<g font-family="DejaVu Sans, Liberation Sans, sans-serif" fill="#1a1a1a" stroke="#1a1a1a" stroke-width="0.17">
<clipPath id="cliph"><rect x="319.08" y="632.08" width="218.23" height="141.12"/></clipPath>
<g clip-path="url(#cliph)" stroke="none">
<marker id="mhb" markerUnits="userSpaceOnUse" markerWidth="12" markerHeight="12" viewBox="-6 -6 12 12" refX="0" refY="0" overflow="visible"><circle cx="0" cy="0" r="2.28" fill="#1f77b4"/></marker>
<polyline points="329,766.8 329.66,756.7 330.32,740.79 330.98,734.5 331.65,732.65 332.31,723.4 332.97,717.11 333.63,712.3 334.29,704.16 334.95,703.05 335.61,701.35 336.27,698.73 336.94,695.99 337.6,693.6 338.26,691.62 338.92,687.99 339.58,685.76 340.24,681.54 340.9,679.26 341.56,676.89 342.23,674.35 342.89,672.58 343.55,669.44 344.21,668.11 344.87,664.74 345.53,664.08 346.19,661.3 346.86,657.2 347.52,655.08 348.18,653.2 348.84,653.54 349.5,651.56 350.16,650.07 350.82,649 351.48,646.46 352.15,646.01 352.81,644.8 353.47,644.12 354.13,643.48 354.79,642.36 355.45,642.18 356.11,642.09 356.77,641.33 357.44,641.38 358.1,641.08 358.76,640.63 359.42,640.94 360.08,640.76 360.74,640.7 361.4,640.25 362.06,640.14 362.73,640.41 363.39,640.05 364.05,640.61 364.71,640.35 365.37,640.04 366.03,640.29 366.69,640.15 367.36,640.15 368.02,640.04 368.68,640.1 369.34,640.41 370,640.19 370.66,640.24 371.32,639.98 371.98,640.39 372.65,640.21 373.31,639.82 373.97,639.96 374.63,639.57 375.29,640.01 375.95,640.49 376.61,639.8 377.27,639.94 377.94,640.03 378.6,640.2 379.26,639.98 379.92,639.82 380.58,639.86 381.24,639.9 381.9,639.79 382.57,639.87 383.23,640.08 383.89,639.83 384.55,639.78 385.21,639.51 385.87,639.85 386.53,640.05 387.19,639.63 387.86,639.71 388.52,639.94 389.18,640.06 389.84,639.54 390.5,640.13 391.16,639.93 391.82,639.75 392.48,640 393.15,639.83 393.81,639.7 394.47,639.86 395.13,640.02 395.79,639.89 396.45,639.79 397.11,639.55 397.78,639.95 398.44,639.47 399.1,639.91 399.76,639.48 400.42,639.33 401.08,639.49 401.74,639.76 402.4,639.41 403.07,639.5 403.73,639.62 404.39,639.74 405.05,639.78 405.71,639.72 406.37,639.26 407.03,639.59 407.69,639.6 408.36,639.77 409.02,639.62 409.68,639.73 410.34,639.8 411,639.65 411.66,639.75 412.32,639.63 412.99,639.67 413.65,639.78 414.31,639.55 414.97,639.53 415.63,640.16 416.29,639.68 416.95,639.66 417.61,639.67 418.28,639.39 418.94,639.6 419.6,639.69 420.26,639.75 420.92,639.49 421.58,639.91 422.24,639.66 422.9,639.71 423.57,639.67 424.23,639.65 424.89,639.81 425.55,639.8 426.21,639.59 426.87,639.73 427.53,639.31 428.19,639.51 428.86,639.77 429.52,639.47 430.18,639.6 430.84,639.52 431.5,639.27 432.16,639.38 432.82,639.72 433.49,639.45 434.15,639.62 434.81,639.35 435.47,639.54 436.13,639.83 436.79,640.17 437.45,639.65 438.11,639.68 438.78,639.67 439.44,639.12 440.1,639.49 440.76,639.35 441.42,639.69 442.08,639.38 442.74,639.61 443.4,639.79 444.07,639.56 444.73,639.5 445.39,639.69 446.05,639.22 446.71,639.47 447.37,639.77 448.03,639.93 448.7,639.33 449.36,639.33 450.02,639.35 450.68,639.64 451.34,639.63 452,639.35 452.66,639.53 453.32,639.45 453.99,639.32 454.65,639.24 455.31,639.58 455.97,639.47 456.63,639.39 457.29,639.54 457.95,639.25 458.61,639.62 459.28,639.33 459.94,639.49 460.6,639.17 461.26,639.38 461.92,639.52 462.58,639.45 463.24,639.63 463.91,639.26 464.57,639.42 465.23,639.43 465.89,639.3 466.55,639.28 467.21,639.45 467.87,639.58 468.53,639.15 469.2,639.28 469.86,639.33 470.52,639.19 471.18,639.4 471.84,639.05 472.5,639.38 473.16,639.38 473.82,639.31 474.49,639.39 475.15,639.35 475.81,639.3 476.47,639.44 477.13,639.23 477.79,639.3 478.45,638.95 479.12,639.36 479.78,639.44 480.44,639.46 481.1,639.21 481.76,639.23 482.42,639.46 483.08,639.12 483.74,639.58 484.41,639.45 485.07,639.36 485.73,639.28 486.39,639.43 487.05,639 487.71,639.05 488.37,639.23 489.03,639.22 489.7,639.25 490.36,639.23 491.02,639.09 491.68,639.08 492.34,639.14 493,639.29 493.66,639.5 494.32,639.53 494.99,639.17 495.65,639.47 496.31,639.31 496.97,639 497.63,639.13 498.29,639.18 498.95,639.17 499.62,639.07 500.28,639.06 500.94,639.36 501.6,639.39 502.26,639.33 502.92,639.19 503.58,638.77 504.24,639.13 504.91,639.15 505.57,638.97 506.23,638.99 506.89,639.29 507.55,639.54 508.21,638.67 508.87,639.22 509.53,639.24 510.2,638.91 510.86,639.32 511.52,639.19 512.18,639.4 512.84,638.95 513.5,639.26 514.16,639.1 514.83,638.97 515.49,639.15 516.15,638.68 516.81,639.13 517.47,639.4 518.13,638.95 518.79,638.94 519.45,638.92 520.12,639.23 520.78,639.19 521.44,639.11 522.1,638.92 522.76,639.11 523.42,638.84 524.08,638.93 524.74,638.96 525.41,639.22 526.07,639.42 526.73,639.04" fill="none" stroke="#1f77b4" stroke-width="1.16" stroke-linejoin="round" marker-start="url(#mhb)" marker-mid="url(#mhb)" marker-end="url(#mhb)"/>
<marker id="mho" markerUnits="userSpaceOnUse" markerWidth="12" markerHeight="12" viewBox="-6 -6 12 12" refX="0" refY="0" overflow="visible"><path d="M0,-2.02L0.55,-0.75L1.92,-0.62L0.88,0.29L1.19,1.63L0,0.93L-1.19,1.63L-0.88,0.29L-1.92,-0.62L-0.55,-0.75Z" fill="#ff7f0e" stroke="#ff7f0e" stroke-width="0.17" stroke-linejoin="round"/></marker>
<polyline points="329,641.02 329.66,639.39 330.32,638.92 330.98,638.66 331.65,638.81 332.31,638.74 332.97,638.77 333.63,638.61 334.29,638.76 334.95,638.66 335.61,638.75 336.27,638.62 336.94,638.76 337.6,638.78 338.26,638.71 338.92,638.46 339.58,638.7 340.24,638.83 340.9,638.79 341.56,638.39 342.23,638.69 342.89,638.68 343.55,641.23 344.21,648.48 344.87,658.57 345.53,648.59 346.19,642.72 346.86,639.84 347.52,639.02 348.18,644.48 348.84,655.7 349.5,671.83 350.16,650.74 350.82,645.55 351.48,652.12 352.15,658.06 352.81,653.81 353.47,651.4 354.13,646.78 354.79,651.07 355.45,656.13 356.11,662.06 356.77,658.63 357.44,650.73 358.1,654.46 358.76,656.24 359.42,654.85 360.08,657.98 360.74,670.29 361.4,658.8 362.06,649.94 362.73,644.39 363.39,642.6 364.05,642.73 364.71,639.73 365.37,641.93 366.03,644.91 366.69,646.48 367.36,648.9 368.02,642.89 368.68,645.59 369.34,649.38 370,653.66 370.66,660.4 371.32,661.44 371.98,655.81 372.65,657.82 373.31,652.37 373.97,647.42 374.63,648.54 375.29,645.76 375.95,649.12 376.61,652.8 377.27,663.21 377.94,658.52 378.6,654.76 379.26,654.28 379.92,649.88 380.58,649.42 381.24,648.13 381.9,646.51 382.57,647.15 383.23,647.98 383.89,645.53 384.55,647.42 385.21,651.45 385.87,652.64 386.53,651.06 387.19,648.8 387.86,651.17 388.52,647 389.18,645.61 389.84,646.45 390.5,646.54 391.16,645.69 391.82,652.03 392.48,649.04 393.15,651.43 393.81,650.72 394.47,656.06 395.13,656.97 395.79,661.46 396.45,668.42 397.11,660.58 397.78,657.7 398.44,653.91 399.1,652.16 399.76,652.79 400.42,648.06 401.08,648.84 401.74,646.09 402.4,644.67 403.07,643.07 403.73,646.14 404.39,641.06 405.05,641.43 405.71,643.98 406.37,647.12 407.03,648.6 407.69,648.3 408.36,650.4 409.02,653.27 409.68,656.85 410.34,651.94 411,650.12 411.66,649.4 412.32,643.62 412.99,642.63 413.65,646.82 414.31,645.21 414.97,639.68 415.63,640.37 416.29,642.21 416.95,640.79 417.61,644.15 418.28,641.14 418.94,640.27 419.6,640.72 420.26,639.98 420.92,640.45 421.58,639.61 422.24,640.48 422.9,640.51 423.57,640.33 424.23,640.35 424.89,640.08 425.55,639.78 426.21,642.01 426.87,643.9 427.53,643.75 428.19,647.94 428.86,651.87 429.52,656.72 430.18,661.11 430.84,664.96 431.5,666.6 432.16,658.02 432.82,657.76 433.49,652.45 434.15,655.35 434.81,659.71 435.47,657.98 436.13,657.94 436.79,654.26 437.45,655.67 438.11,653 438.78,652.12 439.44,651.75 440.1,646.87 440.76,644.11 441.42,646.26 442.08,646.79 442.74,647.06 443.4,649.69 444.07,648.3 444.73,649.05 445.39,652.33 446.05,655.31 446.71,658.62 447.37,662.24 448.03,660.81 448.7,664.88 449.36,670.53 450.02,677.08 450.68,670.06 451.34,661.51 452,660.15 452.66,655.59 453.32,657.46 453.99,657.36 454.65,656.17 455.31,658.06 455.97,651.73 456.63,655.25 457.29,651.14 457.95,650.47 458.61,647.74 459.28,646.24 459.94,645.46 460.6,645.25 461.26,645.81" fill="none" stroke="#ff7f0e" stroke-width="1.16" stroke-linejoin="round" marker-start="url(#mho)" marker-mid="url(#mho)" marker-end="url(#mho)"/>
</g>
<rect x="319.08" y="632.08" width="218.23" height="141.12" fill="none" stroke="#757575" stroke-width="0.95"/>
<text x="329" y="782.92" font-size="6.41" text-anchor="middle">0</text>
<text x="362.06" y="782.92" font-size="6.41" text-anchor="middle">50</text>
<text x="395.13" y="782.92" font-size="6.41" text-anchor="middle">100</text>
<text x="428.19" y="782.92" font-size="6.41" text-anchor="middle">150</text>
<text x="461.26" y="782.92" font-size="6.41" text-anchor="middle">200</text>
<text x="494.32" y="782.92" font-size="6.41" text-anchor="middle">250</text>
<text x="527.39" y="782.92" font-size="6.41" text-anchor="middle">300</text>
<text x="314.58" y="770.14" font-size="6.41" text-anchor="end">0.65</text>
<text x="314.58" y="751.64" font-size="6.41" text-anchor="end">0.70</text>
<text x="314.58" y="733.14" font-size="6.41" text-anchor="end">0.75</text>
<text x="314.58" y="714.64" font-size="6.41" text-anchor="end">0.80</text>
<text x="314.58" y="696.14" font-size="6.41" text-anchor="end">0.85</text>
<text x="314.58" y="677.64" font-size="6.41" text-anchor="end">0.90</text>
<text x="314.58" y="659.14" font-size="6.41" text-anchor="end">0.95</text>
<text x="314.58" y="640.64" font-size="6.41" text-anchor="end">1.00</text>
<path d="M329,773.2v2.25M362.06,773.2v2.25M395.13,773.2v2.25M428.19,773.2v2.25M461.26,773.2v2.25M494.32,773.2v2.25M527.39,773.2v2.25M319.08,767.8h-2.25M319.08,749.3h-2.25M319.08,730.8h-2.25M319.08,712.3h-2.25M319.08,693.8h-2.25M319.08,675.3h-2.25M319.08,656.8h-2.25M319.08,638.3h-2.25" stroke="#757575" stroke-width="0.95" fill="none"/>
<text x="428.19" y="628.11" font-size="9.09" text-anchor="middle">Validation Recall</text>
<text x="428.19" y="794.03" font-size="9.09" text-anchor="middle">Epoch&#39;s</text>
<text transform="translate(296.5,703.76) rotate(-90)" font-size="9.09" text-anchor="middle">Percentage</text>
<rect x="399.02" y="738.22" width="133.2" height="30.62" rx="2" fill="#fff" fill-opacity="0.8" stroke="#d4d4d4" stroke-width="0.6"/>
<path d="M402.65,746.58H421.73" stroke="#1f77b4" stroke-width="1.16"/>
<circle cx="412.19" cy="746.58" r="2.28" fill="#1f77b4" stroke="none"/>
<text x="429" y="749.85" font-size="9.09">Multimodal-LR 0.0001</text>
<path d="M402.65,759.93H421.73" stroke="#ff7f0e" stroke-width="1.16"/>
<path d="M412.19,757.51L412.85,759.03L414.49,759.19L413.25,760.28L413.61,761.89L412.19,761.05L410.77,761.89L411.13,760.28L409.89,759.19L411.54,759.03Z" fill="#ff7f0e" stroke="none"/>
<text x="429" y="763.21" font-size="9.09">Multimodal-LR 1</text>
</g>
<text x="423.4" y="807.5" font-size="10.8" text-anchor="middle" font-family="Liberation Serif, DejaVu Serif, serif" fill="#111" stroke="#111" stroke-width="0.15" textLength="94.5" lengthAdjust="spacingAndGlyphs">(<tspan font-weight="bold">h</tspan>) Validation Recall</text>
</svg>
</body></html>
